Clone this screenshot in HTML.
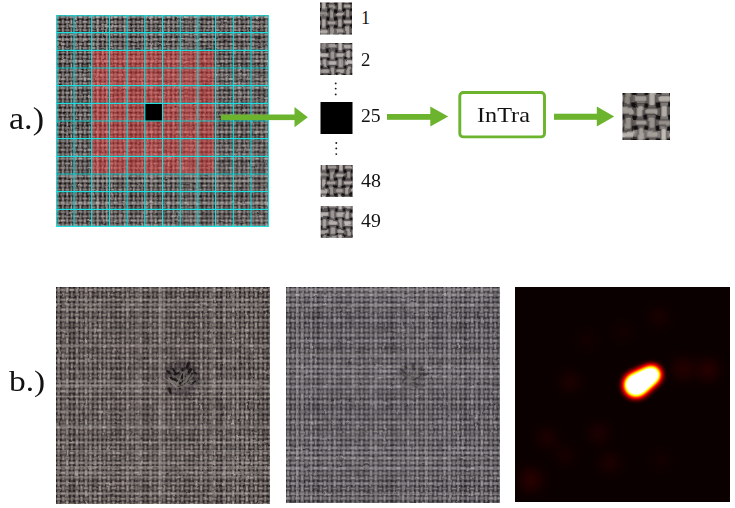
<!DOCTYPE html>
<html><head><meta charset="utf-8">
<style>
html,body{margin:0;padding:0;background:#fff;width:735px;height:508px;overflow:hidden;}
body{position:relative;font-family:"Liberation Serif",serif;color:#111;}
.lbl{position:absolute;font-family:"Liberation Serif",serif;line-height:1;white-space:nowrap;transform-origin:0 0;color:#121212;}
svg{position:absolute;left:0;top:0;}
</style></head>
<body>
<svg width="735" height="508" viewBox="0 0 735 508">
<defs>
<linearGradient id="shv" x1="0" y1="0" x2="1" y2="0"><stop offset="0" stop-color="#000" stop-opacity="0.4"/><stop offset="0.3" stop-color="#000" stop-opacity="0"/><stop offset="0.7" stop-color="#000" stop-opacity="0"/><stop offset="1" stop-color="#000" stop-opacity="0.4"/></linearGradient>
<linearGradient id="shh" x1="0" y1="0" x2="0" y2="1"><stop offset="0" stop-color="#000" stop-opacity="0.4"/><stop offset="0.3" stop-color="#000" stop-opacity="0"/><stop offset="0.7" stop-color="#000" stop-opacity="0"/><stop offset="1" stop-color="#000" stop-opacity="0.4"/></linearGradient>
<pattern id="wA" x="56" y="15" width="70.800" height="70.800" patternUnits="userSpaceOnUse">
<rect width="70.800" height="70.800" fill="#0e0c0e"/>
<rect x="0.77" y="0" width="2.37" height="70.80" fill="#4e4848"/>
<rect x="5.58" y="0" width="2.61" height="70.80" fill="#514b4b"/>
<rect x="10.03" y="0" width="2.44" height="70.80" fill="#544e4e"/>
<rect x="14.23" y="0" width="2.17" height="70.80" fill="#605a5a"/>
<rect x="18.42" y="0" width="2.99" height="70.80" fill="#544e4e"/>
<rect x="22.95" y="0" width="2.71" height="70.80" fill="#4f4949"/>
<rect x="27.47" y="0" width="2.79" height="70.80" fill="#534d4d"/>
<rect x="32.22" y="0" width="2.34" height="70.80" fill="#3f3939"/>
<rect x="35.76" y="0" width="3.14" height="70.80" fill="#3f3939"/>
<rect x="40.20" y="0" width="3.01" height="70.80" fill="#5c5656"/>
<rect x="45.56" y="0" width="2.27" height="70.80" fill="#696363"/>
<rect x="49.60" y="0" width="2.48" height="70.80" fill="#585252"/>
<rect x="54.06" y="0" width="2.87" height="70.80" fill="#4f4949"/>
<rect x="57.96" y="0" width="2.86" height="70.80" fill="#453f3f"/>
<rect x="62.58" y="0" width="3.09" height="70.80" fill="#544e4e"/>
<rect x="67.46" y="0" width="2.57" height="70.80" fill="#696363"/>
<rect x="0" y="0.53" width="70.80" height="2.98" fill="#5f5959"/>
<rect x="0" y="5.54" width="70.80" height="2.82" fill="#554f4f"/>
<rect x="0" y="10.12" width="70.80" height="2.45" fill="#635d5d"/>
<rect x="0" y="13.79" width="70.80" height="2.74" fill="#484242"/>
<rect x="0" y="18.06" width="70.80" height="3.03" fill="#544e4e"/>
<rect x="0" y="22.87" width="70.80" height="3.00" fill="#676161"/>
<rect x="0" y="27.74" width="70.80" height="2.66" fill="#575151"/>
<rect x="0" y="31.73" width="70.80" height="2.74" fill="#524c4c"/>
<rect x="0" y="36.32" width="70.80" height="2.18" fill="#494343"/>
<rect x="0" y="40.79" width="70.80" height="2.39" fill="#565050"/>
<rect x="0" y="44.66" width="70.80" height="2.95" fill="#686262"/>
<rect x="0" y="49.41" width="70.80" height="2.56" fill="#3e3838"/>
<rect x="0" y="54.11" width="70.80" height="2.32" fill="#605a5a"/>
<rect x="0" y="58.39" width="70.80" height="2.70" fill="#625c5c"/>
<rect x="0" y="62.55" width="70.80" height="2.85" fill="#645e5e"/>
<rect x="0" y="66.99" width="70.80" height="2.82" fill="#5e5858"/>
<rect x="1.22" y="0.16" width="1.47" height="3.72" rx="0.44" fill="#9d9692"/>
<rect x="0.09" y="6.07" width="3.72" height="1.75" rx="0.52" fill="#97908c"/>
<rect x="1.22" y="9.48" width="1.47" height="3.72" rx="0.44" fill="#948d89"/>
<rect x="0.09" y="14.31" width="3.72" height="1.70" rx="0.51" fill="#8c8581"/>
<rect x="1.22" y="17.72" width="1.47" height="3.72" rx="0.44" fill="#837c78"/>
<rect x="0.09" y="23.44" width="3.72" height="1.86" rx="0.56" fill="#aea7a3"/>
<rect x="1.22" y="27.21" width="1.47" height="3.72" rx="0.44" fill="#958e8a"/>
<rect x="0.09" y="32.26" width="3.72" height="1.70" rx="0.51" fill="#8a837f"/>
<rect x="1.22" y="35.55" width="1.47" height="3.72" rx="0.44" fill="#928b87"/>
<rect x="0.09" y="41.24" width="3.72" height="1.48" rx="0.45" fill="#968f8b"/>
<rect x="1.22" y="44.27" width="1.47" height="3.72" rx="0.44" fill="#8d8682"/>
<rect x="0.09" y="49.90" width="3.72" height="1.59" rx="0.48" fill="#837c78"/>
<rect x="1.22" y="53.41" width="1.47" height="3.72" rx="0.44" fill="#948d89"/>
<rect x="0.09" y="58.90" width="3.72" height="1.67" rx="0.50" fill="#a29b97"/>
<rect x="1.22" y="62.11" width="1.47" height="3.72" rx="0.44" fill="#968f8b"/>
<rect x="0.09" y="67.52" width="3.72" height="1.75" rx="0.53" fill="#9a938f"/>
<rect x="5.02" y="1.10" width="3.72" height="1.85" rx="0.55" fill="#8c8581"/>
<rect x="6.07" y="5.09" width="1.62" height="3.72" rx="0.49" fill="#8a837f"/>
<rect x="5.02" y="10.58" width="3.72" height="1.52" rx="0.46" fill="#948d89"/>
<rect x="6.07" y="13.30" width="1.62" height="3.72" rx="0.49" fill="#97908c"/>
<rect x="5.02" y="18.64" width="3.72" height="1.88" rx="0.56" fill="#a39c98"/>
<rect x="6.07" y="22.50" width="1.62" height="3.72" rx="0.49" fill="#9e9793"/>
<rect x="5.02" y="28.25" width="3.72" height="1.65" rx="0.49" fill="#a29b97"/>
<rect x="6.07" y="31.24" width="1.62" height="3.72" rx="0.49" fill="#9f9894"/>
<rect x="5.02" y="36.74" width="3.72" height="1.35" rx="0.41" fill="#87807c"/>
<rect x="6.07" y="40.12" width="1.62" height="3.72" rx="0.49" fill="#a09995"/>
<rect x="5.02" y="45.22" width="3.72" height="1.83" rx="0.55" fill="#a8a19d"/>
<rect x="6.07" y="48.83" width="1.62" height="3.72" rx="0.49" fill="#857e7a"/>
<rect x="5.02" y="54.55" width="3.72" height="1.44" rx="0.43" fill="#8c8581"/>
<rect x="6.07" y="57.87" width="1.62" height="3.72" rx="0.49" fill="#837c78"/>
<rect x="5.02" y="63.09" width="3.72" height="1.77" rx="0.53" fill="#a9a29e"/>
<rect x="6.07" y="66.54" width="1.62" height="3.72" rx="0.49" fill="#8b8480"/>
<rect x="10.49" y="0.16" width="1.51" height="3.72" rx="0.45" fill="#88817d"/>
<rect x="9.38" y="6.07" width="3.72" height="1.75" rx="0.52" fill="#9b9490"/>
<rect x="10.49" y="9.48" width="1.51" height="3.72" rx="0.45" fill="#908985"/>
<rect x="9.38" y="14.31" width="3.72" height="1.70" rx="0.51" fill="#7f7874"/>
<rect x="10.49" y="17.72" width="1.51" height="3.72" rx="0.45" fill="#8a837f"/>
<rect x="9.38" y="23.44" width="3.72" height="1.86" rx="0.56" fill="#a29b97"/>
<rect x="10.49" y="27.21" width="1.51" height="3.72" rx="0.45" fill="#8a837f"/>
<rect x="9.38" y="32.26" width="3.72" height="1.70" rx="0.51" fill="#8c8581"/>
<rect x="10.49" y="35.55" width="1.51" height="3.72" rx="0.45" fill="#9d9692"/>
<rect x="9.38" y="41.24" width="3.72" height="1.48" rx="0.45" fill="#958e8a"/>
<rect x="10.49" y="44.27" width="1.51" height="3.72" rx="0.45" fill="#8f8884"/>
<rect x="9.38" y="49.90" width="3.72" height="1.59" rx="0.48" fill="#88817d"/>
<rect x="10.49" y="53.41" width="1.51" height="3.72" rx="0.45" fill="#857e7a"/>
<rect x="9.38" y="58.90" width="3.72" height="1.67" rx="0.50" fill="#9a938f"/>
<rect x="10.49" y="62.11" width="1.51" height="3.72" rx="0.45" fill="#938c88"/>
<rect x="9.38" y="67.52" width="3.72" height="1.75" rx="0.53" fill="#918a86"/>
<rect x="13.45" y="1.10" width="3.72" height="1.85" rx="0.55" fill="#8f8884"/>
<rect x="14.64" y="5.09" width="1.35" height="3.72" rx="0.40" fill="#aba4a0"/>
<rect x="13.45" y="10.58" width="3.72" height="1.52" rx="0.46" fill="#9f9894"/>
<rect x="14.64" y="13.30" width="1.35" height="3.72" rx="0.40" fill="#938c88"/>
<rect x="13.45" y="18.64" width="3.72" height="1.88" rx="0.56" fill="#9a938f"/>
<rect x="14.64" y="22.50" width="1.35" height="3.72" rx="0.40" fill="#a8a19d"/>
<rect x="13.45" y="28.25" width="3.72" height="1.65" rx="0.49" fill="#87807c"/>
<rect x="14.64" y="31.24" width="1.35" height="3.72" rx="0.40" fill="#8c8581"/>
<rect x="13.45" y="36.74" width="3.72" height="1.35" rx="0.41" fill="#837c78"/>
<rect x="14.64" y="40.12" width="1.35" height="3.72" rx="0.40" fill="#a59e9a"/>
<rect x="13.45" y="45.22" width="3.72" height="1.83" rx="0.55" fill="#968f8b"/>
<rect x="14.64" y="48.83" width="1.35" height="3.72" rx="0.40" fill="#a49d99"/>
<rect x="13.45" y="54.55" width="3.72" height="1.44" rx="0.43" fill="#a39c98"/>
<rect x="14.64" y="57.87" width="1.35" height="3.72" rx="0.40" fill="#9e9793"/>
<rect x="13.45" y="63.09" width="3.72" height="1.77" rx="0.53" fill="#968f8b"/>
<rect x="14.64" y="66.54" width="1.35" height="3.72" rx="0.40" fill="#aea7a3"/>
<rect x="18.98" y="0.16" width="1.85" height="3.72" rx="0.56" fill="#a19a96"/>
<rect x="18.05" y="6.07" width="3.72" height="1.75" rx="0.52" fill="#97908c"/>
<rect x="18.98" y="9.48" width="1.85" height="3.72" rx="0.56" fill="#8c8581"/>
<rect x="18.05" y="14.31" width="3.72" height="1.70" rx="0.51" fill="#948d89"/>
<rect x="18.98" y="17.72" width="1.85" height="3.72" rx="0.56" fill="#928b87"/>
<rect x="18.05" y="23.44" width="3.72" height="1.86" rx="0.56" fill="#a49d99"/>
<rect x="18.98" y="27.21" width="1.85" height="3.72" rx="0.56" fill="#908985"/>
<rect x="18.05" y="32.26" width="3.72" height="1.70" rx="0.51" fill="#99928e"/>
<rect x="18.98" y="35.55" width="1.85" height="3.72" rx="0.56" fill="#87807c"/>
<rect x="18.05" y="41.24" width="3.72" height="1.48" rx="0.45" fill="#908985"/>
<rect x="18.98" y="44.27" width="1.85" height="3.72" rx="0.56" fill="#a7a09c"/>
<rect x="18.05" y="49.90" width="3.72" height="1.59" rx="0.48" fill="#968f8b"/>
<rect x="18.98" y="53.41" width="1.85" height="3.72" rx="0.56" fill="#8f8884"/>
<rect x="18.05" y="58.90" width="3.72" height="1.67" rx="0.50" fill="#aba4a0"/>
<rect x="18.98" y="62.11" width="1.85" height="3.72" rx="0.56" fill="#8f8884"/>
<rect x="18.05" y="67.52" width="3.72" height="1.75" rx="0.53" fill="#aba4a0"/>
<rect x="22.44" y="1.10" width="3.72" height="1.85" rx="0.55" fill="#a59e9a"/>
<rect x="23.46" y="5.09" width="1.68" height="3.72" rx="0.50" fill="#908985"/>
<rect x="22.44" y="10.58" width="3.72" height="1.52" rx="0.46" fill="#968f8b"/>
<rect x="23.46" y="13.30" width="1.68" height="3.72" rx="0.50" fill="#817a76"/>
<rect x="22.44" y="18.64" width="3.72" height="1.88" rx="0.56" fill="#a39c98"/>
<rect x="23.46" y="22.50" width="1.68" height="3.72" rx="0.50" fill="#827b77"/>
<rect x="22.44" y="28.25" width="3.72" height="1.65" rx="0.49" fill="#a39c98"/>
<rect x="23.46" y="31.24" width="1.68" height="3.72" rx="0.50" fill="#a39c98"/>
<rect x="22.44" y="36.74" width="3.72" height="1.35" rx="0.41" fill="#928b87"/>
<rect x="23.46" y="40.12" width="1.68" height="3.72" rx="0.50" fill="#87807c"/>
<rect x="22.44" y="45.22" width="3.72" height="1.83" rx="0.55" fill="#afa8a4"/>
<rect x="23.46" y="48.83" width="1.68" height="3.72" rx="0.50" fill="#a39c98"/>
<rect x="22.44" y="54.55" width="3.72" height="1.44" rx="0.43" fill="#a49d99"/>
<rect x="23.46" y="57.87" width="1.68" height="3.72" rx="0.50" fill="#938c88"/>
<rect x="22.44" y="63.09" width="3.72" height="1.77" rx="0.53" fill="#9b9490"/>
<rect x="23.46" y="66.54" width="1.68" height="3.72" rx="0.50" fill="#8d8682"/>
<rect x="28.00" y="0.16" width="1.73" height="3.72" rx="0.52" fill="#8b8480"/>
<rect x="27.01" y="6.07" width="3.72" height="1.75" rx="0.52" fill="#9d9692"/>
<rect x="28.00" y="9.48" width="1.73" height="3.72" rx="0.52" fill="#938c88"/>
<rect x="27.01" y="14.31" width="3.72" height="1.70" rx="0.51" fill="#847d79"/>
<rect x="28.00" y="17.72" width="1.73" height="3.72" rx="0.52" fill="#87807c"/>
<rect x="27.01" y="23.44" width="3.72" height="1.86" rx="0.56" fill="#a7a09c"/>
<rect x="28.00" y="27.21" width="1.73" height="3.72" rx="0.52" fill="#8e8783"/>
<rect x="27.01" y="32.26" width="3.72" height="1.70" rx="0.51" fill="#948d89"/>
<rect x="28.00" y="35.55" width="1.73" height="3.72" rx="0.52" fill="#8f8884"/>
<rect x="27.01" y="41.24" width="3.72" height="1.48" rx="0.45" fill="#a49d99"/>
<rect x="28.00" y="44.27" width="1.73" height="3.72" rx="0.52" fill="#a39c98"/>
<rect x="27.01" y="49.90" width="3.72" height="1.59" rx="0.48" fill="#77706c"/>
<rect x="28.00" y="53.41" width="1.73" height="3.72" rx="0.52" fill="#8b8480"/>
<rect x="27.01" y="58.90" width="3.72" height="1.67" rx="0.50" fill="#98918d"/>
<rect x="28.00" y="62.11" width="1.73" height="3.72" rx="0.52" fill="#a69f9b"/>
<rect x="27.01" y="67.52" width="3.72" height="1.75" rx="0.53" fill="#a69f9b"/>
<rect x="31.53" y="1.10" width="3.72" height="1.85" rx="0.55" fill="#97908c"/>
<rect x="32.67" y="5.09" width="1.45" height="3.72" rx="0.43" fill="#7f7874"/>
<rect x="31.53" y="10.58" width="3.72" height="1.52" rx="0.46" fill="#a59e9a"/>
<rect x="32.67" y="13.30" width="1.45" height="3.72" rx="0.43" fill="#958e8a"/>
<rect x="31.53" y="18.64" width="3.72" height="1.88" rx="0.56" fill="#a59e9a"/>
<rect x="32.67" y="22.50" width="1.45" height="3.72" rx="0.43" fill="#847d79"/>
<rect x="31.53" y="28.25" width="3.72" height="1.65" rx="0.49" fill="#a59e9a"/>
<rect x="32.67" y="31.24" width="1.45" height="3.72" rx="0.43" fill="#908985"/>
<rect x="31.53" y="36.74" width="3.72" height="1.35" rx="0.41" fill="#8f8884"/>
<rect x="32.67" y="40.12" width="1.45" height="3.72" rx="0.43" fill="#9a938f"/>
<rect x="31.53" y="45.22" width="3.72" height="1.83" rx="0.55" fill="#98918d"/>
<rect x="32.67" y="48.83" width="1.45" height="3.72" rx="0.43" fill="#918a86"/>
<rect x="31.53" y="54.55" width="3.72" height="1.44" rx="0.43" fill="#8e8783"/>
<rect x="32.67" y="57.87" width="1.45" height="3.72" rx="0.43" fill="#7d7672"/>
<rect x="31.53" y="63.09" width="3.72" height="1.77" rx="0.53" fill="#aea7a3"/>
<rect x="32.67" y="66.54" width="1.45" height="3.72" rx="0.43" fill="#7f7874"/>
<rect x="36.35" y="0.16" width="1.95" height="3.72" rx="0.58" fill="#938c88"/>
<rect x="35.47" y="6.07" width="3.72" height="1.75" rx="0.52" fill="#9a938f"/>
<rect x="36.35" y="9.48" width="1.95" height="3.72" rx="0.58" fill="#958e8a"/>
<rect x="35.47" y="14.31" width="3.72" height="1.70" rx="0.51" fill="#8a837f"/>
<rect x="36.35" y="17.72" width="1.95" height="3.72" rx="0.58" fill="#847d79"/>
<rect x="35.47" y="23.44" width="3.72" height="1.86" rx="0.56" fill="#9a938f"/>
<rect x="36.35" y="27.21" width="1.95" height="3.72" rx="0.58" fill="#968f8b"/>
<rect x="35.47" y="32.26" width="3.72" height="1.70" rx="0.51" fill="#98918d"/>
<rect x="36.35" y="35.55" width="1.95" height="3.72" rx="0.58" fill="#99928e"/>
<rect x="35.47" y="41.24" width="3.72" height="1.48" rx="0.45" fill="#a49d99"/>
<rect x="36.35" y="44.27" width="1.95" height="3.72" rx="0.58" fill="#7d7672"/>
<rect x="35.47" y="49.90" width="3.72" height="1.59" rx="0.48" fill="#8a837f"/>
<rect x="36.35" y="53.41" width="1.95" height="3.72" rx="0.58" fill="#7c7571"/>
<rect x="35.47" y="58.90" width="3.72" height="1.67" rx="0.50" fill="#8e8783"/>
<rect x="36.35" y="62.11" width="1.95" height="3.72" rx="0.58" fill="#7a736f"/>
<rect x="35.47" y="67.52" width="3.72" height="1.75" rx="0.53" fill="#a9a29e"/>
<rect x="39.84" y="1.10" width="3.72" height="1.85" rx="0.55" fill="#a7a09c"/>
<rect x="40.77" y="5.09" width="1.87" height="3.72" rx="0.56" fill="#a69f9b"/>
<rect x="39.84" y="10.58" width="3.72" height="1.52" rx="0.46" fill="#99928e"/>
<rect x="40.77" y="13.30" width="1.87" height="3.72" rx="0.56" fill="#9f9894"/>
<rect x="39.84" y="18.64" width="3.72" height="1.88" rx="0.56" fill="#a09995"/>
<rect x="40.77" y="22.50" width="1.87" height="3.72" rx="0.56" fill="#97908c"/>
<rect x="39.84" y="28.25" width="3.72" height="1.65" rx="0.49" fill="#9a938f"/>
<rect x="40.77" y="31.24" width="1.87" height="3.72" rx="0.56" fill="#918a86"/>
<rect x="39.84" y="36.74" width="3.72" height="1.35" rx="0.41" fill="#817a76"/>
<rect x="40.77" y="40.12" width="1.87" height="3.72" rx="0.56" fill="#938c88"/>
<rect x="39.84" y="45.22" width="3.72" height="1.83" rx="0.55" fill="#afa8a4"/>
<rect x="40.77" y="48.83" width="1.87" height="3.72" rx="0.56" fill="#9d9692"/>
<rect x="39.84" y="54.55" width="3.72" height="1.44" rx="0.43" fill="#aca5a1"/>
<rect x="40.77" y="57.87" width="1.87" height="3.72" rx="0.56" fill="#99928e"/>
<rect x="39.84" y="63.09" width="3.72" height="1.77" rx="0.53" fill="#98918d"/>
<rect x="40.77" y="66.54" width="1.87" height="3.72" rx="0.56" fill="#a59e9a"/>
<rect x="45.99" y="0.16" width="1.41" height="3.72" rx="0.42" fill="#aea7a3"/>
<rect x="44.84" y="6.07" width="3.72" height="1.75" rx="0.52" fill="#857e7a"/>
<rect x="45.99" y="9.48" width="1.41" height="3.72" rx="0.42" fill="#a8a19d"/>
<rect x="44.84" y="14.31" width="3.72" height="1.70" rx="0.51" fill="#807975"/>
<rect x="45.99" y="17.72" width="1.41" height="3.72" rx="0.42" fill="#958e8a"/>
<rect x="44.84" y="23.44" width="3.72" height="1.86" rx="0.56" fill="#afa8a4"/>
<rect x="45.99" y="27.21" width="1.41" height="3.72" rx="0.42" fill="#928b87"/>
<rect x="44.84" y="32.26" width="3.72" height="1.70" rx="0.51" fill="#8b8480"/>
<rect x="45.99" y="35.55" width="1.41" height="3.72" rx="0.42" fill="#b3aca8"/>
<rect x="44.84" y="41.24" width="3.72" height="1.48" rx="0.45" fill="#948d89"/>
<rect x="45.99" y="44.27" width="1.41" height="3.72" rx="0.42" fill="#958e8a"/>
<rect x="44.84" y="49.90" width="3.72" height="1.59" rx="0.48" fill="#7d7672"/>
<rect x="45.99" y="53.41" width="1.41" height="3.72" rx="0.42" fill="#99928e"/>
<rect x="44.84" y="58.90" width="3.72" height="1.67" rx="0.50" fill="#a7a09c"/>
<rect x="45.99" y="62.11" width="1.41" height="3.72" rx="0.42" fill="#948d89"/>
<rect x="44.84" y="67.52" width="3.72" height="1.75" rx="0.53" fill="#aaa39f"/>
<rect x="48.98" y="1.10" width="3.72" height="1.85" rx="0.55" fill="#98918d"/>
<rect x="50.07" y="5.09" width="1.54" height="3.72" rx="0.46" fill="#a9a29e"/>
<rect x="48.98" y="10.58" width="3.72" height="1.52" rx="0.46" fill="#ada6a2"/>
<rect x="50.07" y="13.30" width="1.54" height="3.72" rx="0.46" fill="#918a86"/>
<rect x="48.98" y="18.64" width="3.72" height="1.88" rx="0.56" fill="#8d8682"/>
<rect x="50.07" y="22.50" width="1.54" height="3.72" rx="0.46" fill="#97908c"/>
<rect x="48.98" y="28.25" width="3.72" height="1.65" rx="0.49" fill="#89827e"/>
<rect x="50.07" y="31.24" width="1.54" height="3.72" rx="0.46" fill="#9d9692"/>
<rect x="48.98" y="36.74" width="3.72" height="1.35" rx="0.41" fill="#7f7874"/>
<rect x="50.07" y="40.12" width="1.54" height="3.72" rx="0.46" fill="#87807c"/>
<rect x="48.98" y="45.22" width="3.72" height="1.83" rx="0.55" fill="#b3aca8"/>
<rect x="50.07" y="48.83" width="1.54" height="3.72" rx="0.46" fill="#918a86"/>
<rect x="48.98" y="54.55" width="3.72" height="1.44" rx="0.43" fill="#a09995"/>
<rect x="50.07" y="57.87" width="1.54" height="3.72" rx="0.46" fill="#968f8b"/>
<rect x="48.98" y="63.09" width="3.72" height="1.77" rx="0.53" fill="#99928e"/>
<rect x="50.07" y="66.54" width="1.54" height="3.72" rx="0.46" fill="#89827e"/>
<rect x="54.61" y="0.16" width="1.78" height="3.72" rx="0.53" fill="#a19a96"/>
<rect x="53.63" y="6.07" width="3.72" height="1.75" rx="0.52" fill="#a7a09c"/>
<rect x="54.61" y="9.48" width="1.78" height="3.72" rx="0.53" fill="#a39c98"/>
<rect x="53.63" y="14.31" width="3.72" height="1.70" rx="0.51" fill="#817a76"/>
<rect x="54.61" y="17.72" width="1.78" height="3.72" rx="0.53" fill="#89827e"/>
<rect x="53.63" y="23.44" width="3.72" height="1.86" rx="0.56" fill="#a69f9b"/>
<rect x="54.61" y="27.21" width="1.78" height="3.72" rx="0.53" fill="#a49d99"/>
<rect x="53.63" y="32.26" width="3.72" height="1.70" rx="0.51" fill="#968f8b"/>
<rect x="54.61" y="35.55" width="1.78" height="3.72" rx="0.53" fill="#99928e"/>
<rect x="53.63" y="41.24" width="3.72" height="1.48" rx="0.45" fill="#9c9591"/>
<rect x="54.61" y="44.27" width="1.78" height="3.72" rx="0.53" fill="#8a837f"/>
<rect x="53.63" y="49.90" width="3.72" height="1.59" rx="0.48" fill="#8a837f"/>
<rect x="54.61" y="53.41" width="1.78" height="3.72" rx="0.53" fill="#8c8581"/>
<rect x="53.63" y="58.90" width="3.72" height="1.67" rx="0.50" fill="#958e8a"/>
<rect x="54.61" y="62.11" width="1.78" height="3.72" rx="0.53" fill="#847d79"/>
<rect x="53.63" y="67.52" width="3.72" height="1.75" rx="0.53" fill="#948d89"/>
<rect x="57.53" y="1.10" width="3.72" height="1.85" rx="0.55" fill="#aea7a3"/>
<rect x="58.50" y="5.09" width="1.77" height="3.72" rx="0.53" fill="#8b8480"/>
<rect x="57.53" y="10.58" width="3.72" height="1.52" rx="0.46" fill="#a49d99"/>
<rect x="58.50" y="13.30" width="1.77" height="3.72" rx="0.53" fill="#928b87"/>
<rect x="57.53" y="18.64" width="3.72" height="1.88" rx="0.56" fill="#a59e9a"/>
<rect x="58.50" y="22.50" width="1.77" height="3.72" rx="0.53" fill="#89827e"/>
<rect x="57.53" y="28.25" width="3.72" height="1.65" rx="0.49" fill="#918a86"/>
<rect x="58.50" y="31.24" width="1.77" height="3.72" rx="0.53" fill="#87807c"/>
<rect x="57.53" y="36.74" width="3.72" height="1.35" rx="0.41" fill="#89827e"/>
<rect x="58.50" y="40.12" width="1.77" height="3.72" rx="0.53" fill="#99928e"/>
<rect x="57.53" y="45.22" width="3.72" height="1.83" rx="0.55" fill="#afa8a4"/>
<rect x="58.50" y="48.83" width="1.77" height="3.72" rx="0.53" fill="#867f7b"/>
<rect x="57.53" y="54.55" width="3.72" height="1.44" rx="0.43" fill="#97908c"/>
<rect x="58.50" y="57.87" width="1.77" height="3.72" rx="0.53" fill="#8e8783"/>
<rect x="57.53" y="63.09" width="3.72" height="1.77" rx="0.53" fill="#a29b97"/>
<rect x="58.50" y="66.54" width="1.77" height="3.72" rx="0.53" fill="#908985"/>
<rect x="63.17" y="0.16" width="1.91" height="3.72" rx="0.57" fill="#8d8682"/>
<rect x="62.26" y="6.07" width="3.72" height="1.75" rx="0.52" fill="#867f7b"/>
<rect x="63.17" y="9.48" width="1.91" height="3.72" rx="0.57" fill="#8d8682"/>
<rect x="62.26" y="14.31" width="3.72" height="1.70" rx="0.51" fill="#7f7874"/>
<rect x="63.17" y="17.72" width="1.91" height="3.72" rx="0.57" fill="#97908c"/>
<rect x="62.26" y="23.44" width="3.72" height="1.86" rx="0.56" fill="#928b87"/>
<rect x="63.17" y="27.21" width="1.91" height="3.72" rx="0.57" fill="#87807c"/>
<rect x="62.26" y="32.26" width="3.72" height="1.70" rx="0.51" fill="#99928e"/>
<rect x="63.17" y="35.55" width="1.91" height="3.72" rx="0.57" fill="#8e8783"/>
<rect x="62.26" y="41.24" width="3.72" height="1.48" rx="0.45" fill="#a19a96"/>
<rect x="63.17" y="44.27" width="1.91" height="3.72" rx="0.57" fill="#958e8a"/>
<rect x="62.26" y="49.90" width="3.72" height="1.59" rx="0.48" fill="#958e8a"/>
<rect x="63.17" y="53.41" width="1.91" height="3.72" rx="0.57" fill="#89827e"/>
<rect x="62.26" y="58.90" width="3.72" height="1.67" rx="0.50" fill="#9e9793"/>
<rect x="63.17" y="62.11" width="1.91" height="3.72" rx="0.57" fill="#a09995"/>
<rect x="62.26" y="67.52" width="3.72" height="1.75" rx="0.53" fill="#8d8682"/>
<rect x="66.88" y="1.10" width="3.72" height="1.85" rx="0.55" fill="#aca5a1"/>
<rect x="67.95" y="5.09" width="1.59" height="3.72" rx="0.48" fill="#97908c"/>
<rect x="66.88" y="10.58" width="3.72" height="1.52" rx="0.46" fill="#a9a29e"/>
<rect x="67.95" y="13.30" width="1.59" height="3.72" rx="0.48" fill="#b3aca8"/>
<rect x="66.88" y="18.64" width="3.72" height="1.88" rx="0.56" fill="#a19a96"/>
<rect x="67.95" y="22.50" width="1.59" height="3.72" rx="0.48" fill="#9c9591"/>
<rect x="66.88" y="28.25" width="3.72" height="1.65" rx="0.49" fill="#8a837f"/>
<rect x="67.95" y="31.24" width="1.59" height="3.72" rx="0.48" fill="#a39c98"/>
<rect x="66.88" y="36.74" width="3.72" height="1.35" rx="0.41" fill="#9e9793"/>
<rect x="67.95" y="40.12" width="1.59" height="3.72" rx="0.48" fill="#9b9490"/>
<rect x="66.88" y="45.22" width="3.72" height="1.83" rx="0.55" fill="#afa8a4"/>
<rect x="67.95" y="48.83" width="1.59" height="3.72" rx="0.48" fill="#968f8b"/>
<rect x="66.88" y="54.55" width="3.72" height="1.44" rx="0.43" fill="#aba4a0"/>
<rect x="67.95" y="57.87" width="1.59" height="3.72" rx="0.48" fill="#928b87"/>
<rect x="66.88" y="63.09" width="3.72" height="1.77" rx="0.53" fill="#99928e"/>
<rect x="67.95" y="66.54" width="1.59" height="3.72" rx="0.48" fill="#b0a9a5"/>
</pattern>
<pattern id="wB" x="56" y="287" width="73.600" height="81.600" patternUnits="userSpaceOnUse">
<rect width="73.600" height="81.600" fill="#1e191b"/>
<rect x="1.21" y="0" width="2.81" height="81.60" fill="#665e5d"/>
<rect x="5.56" y="0" width="3.30" height="81.60" fill="#4f4746"/>
<rect x="9.70" y="0" width="2.97" height="81.60" fill="#6f6766"/>
<rect x="14.57" y="0" width="2.48" height="81.60" fill="#534b4a"/>
<rect x="19.34" y="0" width="3.19" height="81.60" fill="#706867"/>
<rect x="23.92" y="0" width="3.10" height="81.60" fill="#554d4c"/>
<rect x="28.50" y="0" width="3.03" height="81.60" fill="#726a69"/>
<rect x="32.76" y="0" width="3.21" height="81.60" fill="#675f5e"/>
<rect x="37.64" y="0" width="3.06" height="81.60" fill="#5e5655"/>
<rect x="42.23" y="0" width="3.09" height="81.60" fill="#5e5655"/>
<rect x="47.03" y="0" width="2.65" height="81.60" fill="#645c5b"/>
<rect x="51.02" y="0" width="3.28" height="81.60" fill="#615958"/>
<rect x="55.82" y="0" width="3.26" height="81.60" fill="#554d4c"/>
<rect x="60.79" y="0" width="2.46" height="81.60" fill="#514948"/>
<rect x="65.33" y="0" width="3.05" height="81.60" fill="#5e5655"/>
<rect x="70.14" y="0" width="3.02" height="81.60" fill="#716968"/>
<rect x="0" y="1.48" width="73.60" height="2.76" fill="#635b5a"/>
<rect x="0" y="6.27" width="73.60" height="2.83" fill="#4b4342"/>
<rect x="0" y="11.32" width="73.60" height="2.79" fill="#6c6463"/>
<rect x="0" y="16.08" width="73.60" height="3.22" fill="#675f5e"/>
<rect x="0" y="21.22" width="73.60" height="2.80" fill="#6f6766"/>
<rect x="0" y="26.15" width="73.60" height="3.13" fill="#504847"/>
<rect x="0" y="31.80" width="73.60" height="2.65" fill="#68605f"/>
<rect x="0" y="36.53" width="73.60" height="3.18" fill="#4a4241"/>
<rect x="0" y="41.67" width="73.60" height="3.20" fill="#645c5b"/>
<rect x="0" y="47.34" width="73.60" height="2.76" fill="#544c4b"/>
<rect x="0" y="52.13" width="73.60" height="2.87" fill="#514948"/>
<rect x="0" y="57.08" width="73.60" height="3.22" fill="#6e6665"/>
<rect x="0" y="62.05" width="73.60" height="3.02" fill="#4c4443"/>
<rect x="0" y="67.12" width="73.60" height="2.79" fill="#5e5655"/>
<rect x="0" y="72.57" width="73.60" height="2.52" fill="#6d6564"/>
<rect x="0" y="77.48" width="73.60" height="2.62" fill="#524a49"/>
<rect x="1.75" y="0.66" width="1.74" height="4.40" rx="0.52" fill="#89807b"/>
<rect x="0.67" y="6.80" width="3.90" height="1.75" rx="0.53" fill="#908782"/>
<rect x="1.75" y="10.51" width="1.74" height="4.40" rx="0.52" fill="#908782"/>
<rect x="0.67" y="16.69" width="3.90" height="2.00" rx="0.60" fill="#9b928d"/>
<rect x="1.75" y="20.43" width="1.74" height="4.40" rx="0.52" fill="#827974"/>
<rect x="0.67" y="26.75" width="3.90" height="1.94" rx="0.58" fill="#817873"/>
<rect x="1.75" y="30.93" width="1.74" height="4.40" rx="0.52" fill="#877e79"/>
<rect x="0.67" y="37.14" width="3.90" height="1.97" rx="0.59" fill="#887f7a"/>
<rect x="1.75" y="41.07" width="1.74" height="4.40" rx="0.52" fill="#847b76"/>
<rect x="0.67" y="47.87" width="3.90" height="1.71" rx="0.51" fill="#988f8a"/>
<rect x="1.75" y="51.37" width="1.74" height="4.40" rx="0.52" fill="#827974"/>
<rect x="0.67" y="57.69" width="3.90" height="2.00" rx="0.60" fill="#9f9691"/>
<rect x="1.75" y="61.37" width="1.74" height="4.40" rx="0.52" fill="#827974"/>
<rect x="0.67" y="67.65" width="3.90" height="1.73" rx="0.52" fill="#857c77"/>
<rect x="1.75" y="71.63" width="1.74" height="4.40" rx="0.52" fill="#9e9590"/>
<rect x="0.67" y="77.98" width="3.90" height="1.63" rx="0.49" fill="#7b726d"/>
<rect x="5.26" y="2.01" width="3.90" height="1.71" rx="0.51" fill="#867d78"/>
<rect x="6.19" y="5.48" width="2.05" height="4.40" rx="0.61" fill="#8b827d"/>
<rect x="5.26" y="11.85" width="3.90" height="1.73" rx="0.52" fill="#928984"/>
<rect x="6.19" y="15.49" width="2.05" height="4.40" rx="0.61" fill="#756c67"/>
<rect x="5.26" y="21.76" width="3.90" height="1.74" rx="0.52" fill="#aaa19c"/>
<rect x="6.19" y="25.52" width="2.05" height="4.40" rx="0.61" fill="#786f6a"/>
<rect x="5.26" y="32.30" width="3.90" height="1.65" rx="0.49" fill="#847b76"/>
<rect x="6.19" y="35.92" width="2.05" height="4.40" rx="0.61" fill="#7f7671"/>
<rect x="5.26" y="42.27" width="3.90" height="1.98" rx="0.60" fill="#968d88"/>
<rect x="6.19" y="46.52" width="2.05" height="4.40" rx="0.61" fill="#8d847f"/>
<rect x="5.26" y="52.68" width="3.90" height="1.78" rx="0.53" fill="#79706b"/>
<rect x="6.19" y="56.49" width="2.05" height="4.40" rx="0.61" fill="#7f7671"/>
<rect x="5.26" y="62.63" width="3.90" height="1.87" rx="0.56" fill="#736a65"/>
<rect x="6.19" y="66.32" width="2.05" height="4.40" rx="0.61" fill="#837a75"/>
<rect x="5.26" y="73.05" width="3.90" height="1.56" rx="0.47" fill="#a09792"/>
<rect x="6.19" y="76.60" width="2.05" height="4.40" rx="0.61" fill="#8d847f"/>
<rect x="10.27" y="0.66" width="1.84" height="4.40" rx="0.55" fill="#a69d98"/>
<rect x="9.24" y="6.80" width="3.90" height="1.75" rx="0.53" fill="#8b827d"/>
<rect x="10.27" y="10.51" width="1.84" height="4.40" rx="0.55" fill="#a59c97"/>
<rect x="9.24" y="16.69" width="3.90" height="2.00" rx="0.60" fill="#9b928d"/>
<rect x="10.27" y="20.43" width="1.84" height="4.40" rx="0.55" fill="#978e89"/>
<rect x="9.24" y="26.75" width="3.90" height="1.94" rx="0.58" fill="#7c736e"/>
<rect x="10.27" y="30.93" width="1.84" height="4.40" rx="0.55" fill="#9e9590"/>
<rect x="9.24" y="37.14" width="3.90" height="1.97" rx="0.59" fill="#7b726d"/>
<rect x="10.27" y="41.07" width="1.84" height="4.40" rx="0.55" fill="#8a817c"/>
<rect x="9.24" y="47.87" width="3.90" height="1.71" rx="0.51" fill="#867d78"/>
<rect x="10.27" y="51.37" width="1.84" height="4.40" rx="0.55" fill="#a59c97"/>
<rect x="9.24" y="57.69" width="3.90" height="2.00" rx="0.60" fill="#8a817c"/>
<rect x="10.27" y="61.37" width="1.84" height="4.40" rx="0.55" fill="#9b928d"/>
<rect x="9.24" y="67.65" width="3.90" height="1.73" rx="0.52" fill="#8a817c"/>
<rect x="10.27" y="71.63" width="1.84" height="4.40" rx="0.55" fill="#99908b"/>
<rect x="9.24" y="77.98" width="3.90" height="1.63" rx="0.49" fill="#7a716c"/>
<rect x="13.86" y="2.01" width="3.90" height="1.71" rx="0.51" fill="#a19893"/>
<rect x="15.04" y="5.48" width="1.54" height="4.40" rx="0.46" fill="#7f7671"/>
<rect x="13.86" y="11.85" width="3.90" height="1.73" rx="0.52" fill="#9a918c"/>
<rect x="15.04" y="15.49" width="1.54" height="4.40" rx="0.46" fill="#857c77"/>
<rect x="13.86" y="21.76" width="3.90" height="1.74" rx="0.52" fill="#877e79"/>
<rect x="15.04" y="25.52" width="1.54" height="4.40" rx="0.46" fill="#89807b"/>
<rect x="13.86" y="32.30" width="3.90" height="1.65" rx="0.49" fill="#877e79"/>
<rect x="15.04" y="35.92" width="1.54" height="4.40" rx="0.46" fill="#786f6a"/>
<rect x="13.86" y="42.27" width="3.90" height="1.98" rx="0.60" fill="#817873"/>
<rect x="15.04" y="46.52" width="1.54" height="4.40" rx="0.46" fill="#7b726d"/>
<rect x="13.86" y="52.68" width="3.90" height="1.78" rx="0.53" fill="#786f6a"/>
<rect x="15.04" y="56.49" width="1.54" height="4.40" rx="0.46" fill="#8c837e"/>
<rect x="13.86" y="62.63" width="3.90" height="1.87" rx="0.56" fill="#837a75"/>
<rect x="15.04" y="66.32" width="1.54" height="4.40" rx="0.46" fill="#988f8a"/>
<rect x="13.86" y="73.05" width="3.90" height="1.56" rx="0.47" fill="#a69d98"/>
<rect x="15.04" y="76.60" width="1.54" height="4.40" rx="0.46" fill="#99908b"/>
<rect x="19.94" y="0.66" width="1.98" height="4.40" rx="0.59" fill="#8f8681"/>
<rect x="18.98" y="6.80" width="3.90" height="1.75" rx="0.53" fill="#807772"/>
<rect x="19.94" y="10.51" width="1.98" height="4.40" rx="0.59" fill="#908782"/>
<rect x="18.98" y="16.69" width="3.90" height="2.00" rx="0.60" fill="#978e89"/>
<rect x="19.94" y="20.43" width="1.98" height="4.40" rx="0.59" fill="#9d948f"/>
<rect x="18.98" y="26.75" width="3.90" height="1.94" rx="0.58" fill="#908782"/>
<rect x="19.94" y="30.93" width="1.98" height="4.40" rx="0.59" fill="#a09792"/>
<rect x="18.98" y="37.14" width="3.90" height="1.97" rx="0.59" fill="#79706b"/>
<rect x="19.94" y="41.07" width="1.98" height="4.40" rx="0.59" fill="#968d88"/>
<rect x="18.98" y="47.87" width="3.90" height="1.71" rx="0.51" fill="#887f7a"/>
<rect x="19.94" y="51.37" width="1.98" height="4.40" rx="0.59" fill="#877e79"/>
<rect x="18.98" y="57.69" width="3.90" height="2.00" rx="0.60" fill="#877e79"/>
<rect x="19.94" y="61.37" width="1.98" height="4.40" rx="0.59" fill="#958c87"/>
<rect x="18.98" y="67.65" width="3.90" height="1.73" rx="0.52" fill="#807772"/>
<rect x="19.94" y="71.63" width="1.98" height="4.40" rx="0.59" fill="#a09792"/>
<rect x="18.98" y="77.98" width="3.90" height="1.63" rx="0.49" fill="#7e7570"/>
<rect x="23.52" y="2.01" width="3.90" height="1.71" rx="0.51" fill="#837a75"/>
<rect x="24.51" y="5.48" width="1.92" height="4.40" rx="0.58" fill="#7d746f"/>
<rect x="23.52" y="11.85" width="3.90" height="1.73" rx="0.52" fill="#8d847f"/>
<rect x="24.51" y="15.49" width="1.92" height="4.40" rx="0.58" fill="#7f7671"/>
<rect x="23.52" y="21.76" width="3.90" height="1.74" rx="0.52" fill="#99908b"/>
<rect x="24.51" y="25.52" width="1.92" height="4.40" rx="0.58" fill="#877e79"/>
<rect x="23.52" y="32.30" width="3.90" height="1.65" rx="0.49" fill="#8d847f"/>
<rect x="24.51" y="35.92" width="1.92" height="4.40" rx="0.58" fill="#8d847f"/>
<rect x="23.52" y="42.27" width="3.90" height="1.98" rx="0.60" fill="#877e79"/>
<rect x="24.51" y="46.52" width="1.92" height="4.40" rx="0.58" fill="#978e89"/>
<rect x="23.52" y="52.68" width="3.90" height="1.78" rx="0.53" fill="#978e89"/>
<rect x="24.51" y="56.49" width="1.92" height="4.40" rx="0.58" fill="#918883"/>
<rect x="23.52" y="62.63" width="3.90" height="1.87" rx="0.56" fill="#817873"/>
<rect x="24.51" y="66.32" width="1.92" height="4.40" rx="0.58" fill="#89807b"/>
<rect x="23.52" y="73.05" width="3.90" height="1.56" rx="0.47" fill="#9a918c"/>
<rect x="24.51" y="76.60" width="1.92" height="4.40" rx="0.58" fill="#79706b"/>
<rect x="29.08" y="0.66" width="1.88" height="4.40" rx="0.56" fill="#978e89"/>
<rect x="28.07" y="6.80" width="3.90" height="1.75" rx="0.53" fill="#837a75"/>
<rect x="29.08" y="10.51" width="1.88" height="4.40" rx="0.56" fill="#8e8580"/>
<rect x="28.07" y="16.69" width="3.90" height="2.00" rx="0.60" fill="#857c77"/>
<rect x="29.08" y="20.43" width="1.88" height="4.40" rx="0.56" fill="#a49b96"/>
<rect x="28.07" y="26.75" width="3.90" height="1.94" rx="0.58" fill="#817873"/>
<rect x="29.08" y="30.93" width="1.88" height="4.40" rx="0.56" fill="#9a918c"/>
<rect x="28.07" y="37.14" width="3.90" height="1.97" rx="0.59" fill="#918883"/>
<rect x="29.08" y="41.07" width="1.88" height="4.40" rx="0.56" fill="#9d948f"/>
<rect x="28.07" y="47.87" width="3.90" height="1.71" rx="0.51" fill="#807772"/>
<rect x="29.08" y="51.37" width="1.88" height="4.40" rx="0.56" fill="#aba29d"/>
<rect x="28.07" y="57.69" width="3.90" height="2.00" rx="0.60" fill="#938a85"/>
<rect x="29.08" y="61.37" width="1.88" height="4.40" rx="0.56" fill="#89807b"/>
<rect x="28.07" y="67.65" width="3.90" height="1.73" rx="0.52" fill="#958c87"/>
<rect x="29.08" y="71.63" width="1.88" height="4.40" rx="0.56" fill="#8c837e"/>
<rect x="28.07" y="77.98" width="3.90" height="1.63" rx="0.49" fill="#807772"/>
<rect x="32.42" y="2.01" width="3.90" height="1.71" rx="0.51" fill="#9d948f"/>
<rect x="33.37" y="5.48" width="1.99" height="4.40" rx="0.60" fill="#99908b"/>
<rect x="32.42" y="11.85" width="3.90" height="1.73" rx="0.52" fill="#857c77"/>
<rect x="33.37" y="15.49" width="1.99" height="4.40" rx="0.60" fill="#918883"/>
<rect x="32.42" y="21.76" width="3.90" height="1.74" rx="0.52" fill="#958c87"/>
<rect x="33.37" y="25.52" width="1.99" height="4.40" rx="0.60" fill="#928984"/>
<rect x="32.42" y="32.30" width="3.90" height="1.65" rx="0.49" fill="#8a817c"/>
<rect x="33.37" y="35.92" width="1.99" height="4.40" rx="0.60" fill="#968d88"/>
<rect x="32.42" y="42.27" width="3.90" height="1.98" rx="0.60" fill="#837a75"/>
<rect x="33.37" y="46.52" width="1.99" height="4.40" rx="0.60" fill="#8b827d"/>
<rect x="32.42" y="52.68" width="3.90" height="1.78" rx="0.53" fill="#827974"/>
<rect x="33.37" y="56.49" width="1.99" height="4.40" rx="0.60" fill="#a29994"/>
<rect x="32.42" y="62.63" width="3.90" height="1.87" rx="0.56" fill="#746b66"/>
<rect x="33.37" y="66.32" width="1.99" height="4.40" rx="0.60" fill="#9c938e"/>
<rect x="32.42" y="73.05" width="3.90" height="1.56" rx="0.47" fill="#8c837e"/>
<rect x="33.37" y="76.60" width="1.99" height="4.40" rx="0.60" fill="#958c87"/>
<rect x="38.22" y="0.66" width="1.90" height="4.40" rx="0.57" fill="#8a817c"/>
<rect x="37.22" y="6.80" width="3.90" height="1.75" rx="0.53" fill="#817873"/>
<rect x="38.22" y="10.51" width="1.90" height="4.40" rx="0.57" fill="#978e89"/>
<rect x="37.22" y="16.69" width="3.90" height="2.00" rx="0.60" fill="#908782"/>
<rect x="38.22" y="20.43" width="1.90" height="4.40" rx="0.57" fill="#807772"/>
<rect x="37.22" y="26.75" width="3.90" height="1.94" rx="0.58" fill="#786f6a"/>
<rect x="38.22" y="30.93" width="1.90" height="4.40" rx="0.57" fill="#7f7671"/>
<rect x="37.22" y="37.14" width="3.90" height="1.97" rx="0.59" fill="#8e8580"/>
<rect x="38.22" y="41.07" width="1.90" height="4.40" rx="0.57" fill="#938a85"/>
<rect x="37.22" y="47.87" width="3.90" height="1.71" rx="0.51" fill="#988f8a"/>
<rect x="38.22" y="51.37" width="1.90" height="4.40" rx="0.57" fill="#948b86"/>
<rect x="37.22" y="57.69" width="3.90" height="2.00" rx="0.60" fill="#877e79"/>
<rect x="38.22" y="61.37" width="1.90" height="4.40" rx="0.57" fill="#938a85"/>
<rect x="37.22" y="67.65" width="3.90" height="1.73" rx="0.52" fill="#988f8a"/>
<rect x="38.22" y="71.63" width="1.90" height="4.40" rx="0.57" fill="#958c87"/>
<rect x="37.22" y="77.98" width="3.90" height="1.63" rx="0.49" fill="#877e79"/>
<rect x="41.82" y="2.01" width="3.90" height="1.71" rx="0.51" fill="#8c837e"/>
<rect x="42.82" y="5.48" width="1.92" height="4.40" rx="0.57" fill="#8c837e"/>
<rect x="41.82" y="11.85" width="3.90" height="1.73" rx="0.52" fill="#a09792"/>
<rect x="42.82" y="15.49" width="1.92" height="4.40" rx="0.57" fill="#867d78"/>
<rect x="41.82" y="21.76" width="3.90" height="1.74" rx="0.52" fill="#99908b"/>
<rect x="42.82" y="25.52" width="1.92" height="4.40" rx="0.57" fill="#8d847f"/>
<rect x="41.82" y="32.30" width="3.90" height="1.65" rx="0.49" fill="#a49b96"/>
<rect x="42.82" y="35.92" width="1.92" height="4.40" rx="0.57" fill="#99908b"/>
<rect x="41.82" y="42.27" width="3.90" height="1.98" rx="0.60" fill="#a19893"/>
<rect x="42.82" y="46.52" width="1.92" height="4.40" rx="0.57" fill="#9a918c"/>
<rect x="41.82" y="52.68" width="3.90" height="1.78" rx="0.53" fill="#7f7671"/>
<rect x="42.82" y="56.49" width="1.92" height="4.40" rx="0.57" fill="#857c77"/>
<rect x="41.82" y="62.63" width="3.90" height="1.87" rx="0.56" fill="#837a75"/>
<rect x="42.82" y="66.32" width="1.92" height="4.40" rx="0.57" fill="#857c77"/>
<rect x="41.82" y="73.05" width="3.90" height="1.56" rx="0.47" fill="#948b86"/>
<rect x="42.82" y="76.60" width="1.92" height="4.40" rx="0.57" fill="#948b86"/>
<rect x="47.53" y="0.66" width="1.65" height="4.40" rx="0.49" fill="#a09792"/>
<rect x="46.41" y="6.80" width="3.90" height="1.75" rx="0.53" fill="#857c77"/>
<rect x="47.53" y="10.51" width="1.65" height="4.40" rx="0.49" fill="#9d948f"/>
<rect x="46.41" y="16.69" width="3.90" height="2.00" rx="0.60" fill="#857c77"/>
<rect x="47.53" y="20.43" width="1.65" height="4.40" rx="0.49" fill="#8c837e"/>
<rect x="46.41" y="26.75" width="3.90" height="1.94" rx="0.58" fill="#978e89"/>
<rect x="47.53" y="30.93" width="1.65" height="4.40" rx="0.49" fill="#857c77"/>
<rect x="46.41" y="37.14" width="3.90" height="1.97" rx="0.59" fill="#7f7671"/>
<rect x="47.53" y="41.07" width="1.65" height="4.40" rx="0.49" fill="#827974"/>
<rect x="46.41" y="47.87" width="3.90" height="1.71" rx="0.51" fill="#79706b"/>
<rect x="47.53" y="51.37" width="1.65" height="4.40" rx="0.49" fill="#9f9691"/>
<rect x="46.41" y="57.69" width="3.90" height="2.00" rx="0.60" fill="#a9a09b"/>
<rect x="47.53" y="61.37" width="1.65" height="4.40" rx="0.49" fill="#978e89"/>
<rect x="46.41" y="67.65" width="3.90" height="1.73" rx="0.52" fill="#817873"/>
<rect x="47.53" y="71.63" width="1.65" height="4.40" rx="0.49" fill="#8a817c"/>
<rect x="46.41" y="77.98" width="3.90" height="1.63" rx="0.49" fill="#7d746f"/>
<rect x="50.71" y="2.01" width="3.90" height="1.71" rx="0.51" fill="#978e89"/>
<rect x="51.64" y="5.48" width="2.03" height="4.40" rx="0.61" fill="#968d88"/>
<rect x="50.71" y="11.85" width="3.90" height="1.73" rx="0.52" fill="#948b86"/>
<rect x="51.64" y="15.49" width="2.03" height="4.40" rx="0.61" fill="#918883"/>
<rect x="50.71" y="21.76" width="3.90" height="1.74" rx="0.52" fill="#8b827d"/>
<rect x="51.64" y="25.52" width="2.03" height="4.40" rx="0.61" fill="#918883"/>
<rect x="50.71" y="32.30" width="3.90" height="1.65" rx="0.49" fill="#a49b96"/>
<rect x="51.64" y="35.92" width="2.03" height="4.40" rx="0.61" fill="#99908b"/>
<rect x="50.71" y="42.27" width="3.90" height="1.98" rx="0.60" fill="#837a75"/>
<rect x="51.64" y="46.52" width="2.03" height="4.40" rx="0.61" fill="#908782"/>
<rect x="50.71" y="52.68" width="3.90" height="1.78" rx="0.53" fill="#8e8580"/>
<rect x="51.64" y="56.49" width="2.03" height="4.40" rx="0.61" fill="#877e79"/>
<rect x="50.71" y="62.63" width="3.90" height="1.87" rx="0.56" fill="#918883"/>
<rect x="51.64" y="66.32" width="2.03" height="4.40" rx="0.61" fill="#8e8580"/>
<rect x="50.71" y="73.05" width="3.90" height="1.56" rx="0.47" fill="#9e9590"/>
<rect x="51.64" y="76.60" width="2.03" height="4.40" rx="0.61" fill="#8c837e"/>
<rect x="56.44" y="0.66" width="2.02" height="4.40" rx="0.61" fill="#9a918c"/>
<rect x="55.50" y="6.80" width="3.90" height="1.75" rx="0.53" fill="#8c837e"/>
<rect x="56.44" y="10.51" width="2.02" height="4.40" rx="0.61" fill="#8b827d"/>
<rect x="55.50" y="16.69" width="3.90" height="2.00" rx="0.60" fill="#877e79"/>
<rect x="56.44" y="20.43" width="2.02" height="4.40" rx="0.61" fill="#867d78"/>
<rect x="55.50" y="26.75" width="3.90" height="1.94" rx="0.58" fill="#756c67"/>
<rect x="56.44" y="30.93" width="2.02" height="4.40" rx="0.61" fill="#8c837e"/>
<rect x="55.50" y="37.14" width="3.90" height="1.97" rx="0.59" fill="#8f8681"/>
<rect x="56.44" y="41.07" width="2.02" height="4.40" rx="0.61" fill="#7d746f"/>
<rect x="55.50" y="47.87" width="3.90" height="1.71" rx="0.51" fill="#887f7a"/>
<rect x="56.44" y="51.37" width="2.02" height="4.40" rx="0.61" fill="#887f7a"/>
<rect x="55.50" y="57.69" width="3.90" height="2.00" rx="0.60" fill="#948b86"/>
<rect x="56.44" y="61.37" width="2.02" height="4.40" rx="0.61" fill="#908782"/>
<rect x="55.50" y="67.65" width="3.90" height="1.73" rx="0.52" fill="#9d948f"/>
<rect x="56.44" y="71.63" width="2.02" height="4.40" rx="0.61" fill="#908782"/>
<rect x="55.50" y="77.98" width="3.90" height="1.63" rx="0.49" fill="#867d78"/>
<rect x="60.08" y="2.01" width="3.90" height="1.71" rx="0.51" fill="#a19893"/>
<rect x="61.26" y="5.48" width="1.53" height="4.40" rx="0.46" fill="#807772"/>
<rect x="60.08" y="11.85" width="3.90" height="1.73" rx="0.52" fill="#9f9691"/>
<rect x="61.26" y="15.49" width="1.53" height="4.40" rx="0.46" fill="#8b827d"/>
<rect x="60.08" y="21.76" width="3.90" height="1.74" rx="0.52" fill="#a19893"/>
<rect x="61.26" y="25.52" width="1.53" height="4.40" rx="0.46" fill="#928984"/>
<rect x="60.08" y="32.30" width="3.90" height="1.65" rx="0.49" fill="#8a817c"/>
<rect x="61.26" y="35.92" width="1.53" height="4.40" rx="0.46" fill="#8a817c"/>
<rect x="60.08" y="42.27" width="3.90" height="1.98" rx="0.60" fill="#8e8580"/>
<rect x="61.26" y="46.52" width="1.53" height="4.40" rx="0.46" fill="#8c837e"/>
<rect x="60.08" y="52.68" width="3.90" height="1.78" rx="0.53" fill="#978e89"/>
<rect x="61.26" y="56.49" width="1.53" height="4.40" rx="0.46" fill="#8b827d"/>
<rect x="60.08" y="62.63" width="3.90" height="1.87" rx="0.56" fill="#726964"/>
<rect x="61.26" y="66.32" width="1.53" height="4.40" rx="0.46" fill="#857c77"/>
<rect x="60.08" y="73.05" width="3.90" height="1.56" rx="0.47" fill="#9e9590"/>
<rect x="61.26" y="76.60" width="1.53" height="4.40" rx="0.46" fill="#938a85"/>
<rect x="65.91" y="0.66" width="1.89" height="4.40" rx="0.57" fill="#938a85"/>
<rect x="64.91" y="6.80" width="3.90" height="1.75" rx="0.53" fill="#8d847f"/>
<rect x="65.91" y="10.51" width="1.89" height="4.40" rx="0.57" fill="#7d746f"/>
<rect x="64.91" y="16.69" width="3.90" height="2.00" rx="0.60" fill="#a39a95"/>
<rect x="65.91" y="20.43" width="1.89" height="4.40" rx="0.57" fill="#968d88"/>
<rect x="64.91" y="26.75" width="3.90" height="1.94" rx="0.58" fill="#89807b"/>
<rect x="65.91" y="30.93" width="1.89" height="4.40" rx="0.57" fill="#9c938e"/>
<rect x="64.91" y="37.14" width="3.90" height="1.97" rx="0.59" fill="#8f8681"/>
<rect x="65.91" y="41.07" width="1.89" height="4.40" rx="0.57" fill="#807772"/>
<rect x="64.91" y="47.87" width="3.90" height="1.71" rx="0.51" fill="#938a85"/>
<rect x="65.91" y="51.37" width="1.89" height="4.40" rx="0.57" fill="#978e89"/>
<rect x="64.91" y="57.69" width="3.90" height="2.00" rx="0.60" fill="#8d847f"/>
<rect x="65.91" y="61.37" width="1.89" height="4.40" rx="0.57" fill="#968d88"/>
<rect x="64.91" y="67.65" width="3.90" height="1.73" rx="0.52" fill="#918883"/>
<rect x="65.91" y="71.63" width="1.89" height="4.40" rx="0.57" fill="#837a75"/>
<rect x="64.91" y="77.98" width="3.90" height="1.63" rx="0.49" fill="#918883"/>
<rect x="69.70" y="2.01" width="3.90" height="1.71" rx="0.51" fill="#847b76"/>
<rect x="70.71" y="5.48" width="1.87" height="4.40" rx="0.56" fill="#9d948f"/>
<rect x="69.70" y="11.85" width="3.90" height="1.73" rx="0.52" fill="#948b86"/>
<rect x="70.71" y="15.49" width="1.87" height="4.40" rx="0.56" fill="#908782"/>
<rect x="69.70" y="21.76" width="3.90" height="1.74" rx="0.52" fill="#9b928d"/>
<rect x="70.71" y="25.52" width="1.87" height="4.40" rx="0.56" fill="#988f8a"/>
<rect x="69.70" y="32.30" width="3.90" height="1.65" rx="0.49" fill="#8a817c"/>
<rect x="70.71" y="35.92" width="1.87" height="4.40" rx="0.56" fill="#a9a09b"/>
<rect x="69.70" y="42.27" width="3.90" height="1.98" rx="0.60" fill="#837a75"/>
<rect x="70.71" y="46.52" width="1.87" height="4.40" rx="0.56" fill="#877e79"/>
<rect x="69.70" y="52.68" width="3.90" height="1.78" rx="0.53" fill="#867d78"/>
<rect x="70.71" y="56.49" width="1.87" height="4.40" rx="0.56" fill="#a59c97"/>
<rect x="69.70" y="62.63" width="3.90" height="1.87" rx="0.56" fill="#89807b"/>
<rect x="70.71" y="66.32" width="1.87" height="4.40" rx="0.56" fill="#a29994"/>
<rect x="69.70" y="73.05" width="3.90" height="1.56" rx="0.47" fill="#968d88"/>
<rect x="70.71" y="76.60" width="1.87" height="4.40" rx="0.56" fill="#9f9691"/>
</pattern>
<pattern id="wC" x="286" y="287" width="73.600" height="81.600" patternUnits="userSpaceOnUse">
<rect width="73.600" height="81.600" fill="#28252c"/>
<rect x="0.72" y="0" width="2.79" height="81.60" fill="#585458"/>
<rect x="5.33" y="0" width="3.20" height="81.60" fill="#504c50"/>
<rect x="9.99" y="0" width="2.84" height="81.60" fill="#6c686c"/>
<rect x="14.50" y="0" width="3.34" height="81.60" fill="#716d71"/>
<rect x="19.15" y="0" width="3.28" height="81.60" fill="#514d51"/>
<rect x="23.75" y="0" width="2.50" height="81.60" fill="#6a666a"/>
<rect x="28.29" y="0" width="2.54" height="81.60" fill="#5c585c"/>
<rect x="33.43" y="0" width="2.62" height="81.60" fill="#534f53"/>
<rect x="37.25" y="0" width="3.37" height="81.60" fill="#585458"/>
<rect x="42.10" y="0" width="2.84" height="81.60" fill="#696569"/>
<rect x="47.13" y="0" width="3.03" height="81.60" fill="#6d696d"/>
<rect x="51.53" y="0" width="2.70" height="81.60" fill="#4f4b4f"/>
<rect x="56.28" y="0" width="2.91" height="81.60" fill="#646064"/>
<rect x="60.69" y="0" width="2.79" height="81.60" fill="#4f4b4f"/>
<rect x="65.42" y="0" width="2.75" height="81.60" fill="#676367"/>
<rect x="69.56" y="0" width="2.99" height="81.60" fill="#595559"/>
<rect x="0" y="1.15" width="73.60" height="2.98" fill="#6d696d"/>
<rect x="0" y="6.26" width="73.60" height="3.30" fill="#716d71"/>
<rect x="0" y="11.23" width="73.60" height="3.08" fill="#605c60"/>
<rect x="0" y="16.35" width="73.60" height="3.33" fill="#716d71"/>
<rect x="0" y="21.44" width="73.60" height="3.26" fill="#595559"/>
<rect x="0" y="26.05" width="73.60" height="3.39" fill="#504c50"/>
<rect x="0" y="31.80" width="73.60" height="3.07" fill="#635f63"/>
<rect x="0" y="37.03" width="73.60" height="2.56" fill="#4f4b4f"/>
<rect x="0" y="41.58" width="73.60" height="3.26" fill="#555155"/>
<rect x="0" y="46.44" width="73.60" height="3.36" fill="#5c585c"/>
<rect x="0" y="52.15" width="73.60" height="3.30" fill="#635f63"/>
<rect x="0" y="57.15" width="73.60" height="2.97" fill="#534f53"/>
<rect x="0" y="62.35" width="73.60" height="3.11" fill="#4f4b4f"/>
<rect x="0" y="67.81" width="73.60" height="2.61" fill="#6d696d"/>
<rect x="0" y="72.48" width="73.60" height="3.23" fill="#595559"/>
<rect x="0" y="77.86" width="73.60" height="2.97" fill="#706c70"/>
<rect x="1.25" y="0.44" width="1.73" height="4.40" rx="0.52" fill="#928e91"/>
<rect x="0.17" y="6.88" width="3.90" height="2.05" rx="0.61" fill="#928e91"/>
<rect x="1.25" y="10.57" width="1.73" height="4.40" rx="0.52" fill="#868285"/>
<rect x="0.17" y="16.99" width="3.90" height="2.06" rx="0.62" fill="#979396"/>
<rect x="1.25" y="20.87" width="1.73" height="4.40" rx="0.52" fill="#8b878a"/>
<rect x="0.17" y="26.69" width="3.90" height="2.10" rx="0.63" fill="#858184"/>
<rect x="1.25" y="31.13" width="1.73" height="4.40" rx="0.52" fill="#898588"/>
<rect x="0.17" y="37.52" width="3.90" height="1.59" rx="0.48" fill="#858184"/>
<rect x="1.25" y="41.01" width="1.73" height="4.40" rx="0.52" fill="#949093"/>
<rect x="0.17" y="47.08" width="3.90" height="2.09" rx="0.63" fill="#8a8689"/>
<rect x="1.25" y="51.61" width="1.73" height="4.40" rx="0.52" fill="#858184"/>
<rect x="0.17" y="57.71" width="3.90" height="1.84" rx="0.55" fill="#8a8689"/>
<rect x="1.25" y="61.70" width="1.73" height="4.40" rx="0.52" fill="#7f7b7e"/>
<rect x="0.17" y="68.31" width="3.90" height="1.62" rx="0.49" fill="#8e8a8d"/>
<rect x="1.25" y="71.90" width="1.73" height="4.40" rx="0.52" fill="#959194"/>
<rect x="0.17" y="78.42" width="3.90" height="1.84" rx="0.55" fill="#969295"/>
<rect x="4.98" y="1.72" width="3.90" height="1.85" rx="0.56" fill="#959194"/>
<rect x="5.94" y="5.71" width="1.98" height="4.40" rx="0.60" fill="#747073"/>
<rect x="4.98" y="11.81" width="3.90" height="1.91" rx="0.57" fill="#898588"/>
<rect x="5.94" y="15.82" width="1.98" height="4.40" rx="0.60" fill="#848083"/>
<rect x="4.98" y="22.06" width="3.90" height="2.02" rx="0.61" fill="#7a7679"/>
<rect x="5.94" y="25.54" width="1.98" height="4.40" rx="0.60" fill="#858184"/>
<rect x="4.98" y="32.38" width="3.90" height="1.90" rx="0.57" fill="#918d90"/>
<rect x="5.94" y="36.11" width="1.98" height="4.40" rx="0.60" fill="#757174"/>
<rect x="4.98" y="42.20" width="3.90" height="2.02" rx="0.61" fill="#898588"/>
<rect x="5.94" y="45.92" width="1.98" height="4.40" rx="0.60" fill="#817d80"/>
<rect x="4.98" y="52.78" width="3.90" height="2.05" rx="0.61" fill="#938f92"/>
<rect x="5.94" y="56.43" width="1.98" height="4.40" rx="0.60" fill="#7e7a7d"/>
<rect x="4.98" y="62.94" width="3.90" height="1.93" rx="0.58" fill="#888487"/>
<rect x="5.94" y="66.92" width="1.98" height="4.40" rx="0.60" fill="#898588"/>
<rect x="4.98" y="73.10" width="3.90" height="2.00" rx="0.60" fill="#7a7679"/>
<rect x="5.94" y="77.14" width="1.98" height="4.40" rx="0.60" fill="#757174"/>
<rect x="10.53" y="0.44" width="1.76" height="4.40" rx="0.53" fill="#989497"/>
<rect x="9.46" y="6.88" width="3.90" height="2.05" rx="0.61" fill="#a39fa2"/>
<rect x="10.53" y="10.57" width="1.76" height="4.40" rx="0.53" fill="#8c888b"/>
<rect x="9.46" y="16.99" width="3.90" height="2.06" rx="0.62" fill="#959194"/>
<rect x="10.53" y="20.87" width="1.76" height="4.40" rx="0.53" fill="#969295"/>
<rect x="9.46" y="26.69" width="3.90" height="2.10" rx="0.63" fill="#7d797c"/>
<rect x="10.53" y="31.13" width="1.76" height="4.40" rx="0.53" fill="#8f8b8e"/>
<rect x="9.46" y="37.52" width="3.90" height="1.59" rx="0.48" fill="#7c787b"/>
<rect x="10.53" y="41.01" width="1.76" height="4.40" rx="0.53" fill="#8f8b8e"/>
<rect x="9.46" y="47.08" width="3.90" height="2.09" rx="0.63" fill="#8c888b"/>
<rect x="10.53" y="51.61" width="1.76" height="4.40" rx="0.53" fill="#8d898c"/>
<rect x="9.46" y="57.71" width="3.90" height="1.84" rx="0.55" fill="#817d80"/>
<rect x="10.53" y="61.70" width="1.76" height="4.40" rx="0.53" fill="#9b979a"/>
<rect x="9.46" y="68.31" width="3.90" height="1.62" rx="0.49" fill="#868285"/>
<rect x="10.53" y="71.90" width="1.76" height="4.40" rx="0.53" fill="#959194"/>
<rect x="9.46" y="78.42" width="3.90" height="1.84" rx="0.55" fill="#9c989b"/>
<rect x="14.22" y="1.72" width="3.90" height="1.85" rx="0.56" fill="#8e8a8d"/>
<rect x="15.14" y="5.71" width="2.07" height="4.40" rx="0.62" fill="#8e8a8d"/>
<rect x="14.22" y="11.81" width="3.90" height="1.91" rx="0.57" fill="#949093"/>
<rect x="15.14" y="15.82" width="2.07" height="4.40" rx="0.62" fill="#8f8b8e"/>
<rect x="14.22" y="22.06" width="3.90" height="2.02" rx="0.61" fill="#7e7a7d"/>
<rect x="15.14" y="25.54" width="2.07" height="4.40" rx="0.62" fill="#949093"/>
<rect x="14.22" y="32.38" width="3.90" height="1.90" rx="0.57" fill="#938f92"/>
<rect x="15.14" y="36.11" width="2.07" height="4.40" rx="0.62" fill="#8b878a"/>
<rect x="14.22" y="42.20" width="3.90" height="2.02" rx="0.61" fill="#807c7f"/>
<rect x="15.14" y="45.92" width="2.07" height="4.40" rx="0.62" fill="#918d90"/>
<rect x="14.22" y="52.78" width="3.90" height="2.05" rx="0.61" fill="#979396"/>
<rect x="15.14" y="56.43" width="2.07" height="4.40" rx="0.62" fill="#949093"/>
<rect x="14.22" y="62.94" width="3.90" height="1.93" rx="0.58" fill="#8c888b"/>
<rect x="15.14" y="66.92" width="2.07" height="4.40" rx="0.62" fill="#8d898c"/>
<rect x="14.22" y="73.10" width="3.90" height="2.00" rx="0.60" fill="#837f82"/>
<rect x="15.14" y="77.14" width="2.07" height="4.40" rx="0.62" fill="#9a9699"/>
<rect x="19.77" y="0.44" width="2.03" height="4.40" rx="0.61" fill="#8e8a8d"/>
<rect x="18.84" y="6.88" width="3.90" height="2.05" rx="0.61" fill="#949093"/>
<rect x="19.77" y="10.57" width="2.03" height="4.40" rx="0.61" fill="#7b777a"/>
<rect x="18.84" y="16.99" width="3.90" height="2.06" rx="0.62" fill="#8b878a"/>
<rect x="19.77" y="20.87" width="2.03" height="4.40" rx="0.61" fill="#837f82"/>
<rect x="18.84" y="26.69" width="3.90" height="2.10" rx="0.63" fill="#797578"/>
<rect x="19.77" y="31.13" width="2.03" height="4.40" rx="0.61" fill="#8b878a"/>
<rect x="18.84" y="37.52" width="3.90" height="1.59" rx="0.48" fill="#8b878a"/>
<rect x="19.77" y="41.01" width="2.03" height="4.40" rx="0.61" fill="#797578"/>
<rect x="18.84" y="47.08" width="3.90" height="2.09" rx="0.63" fill="#837f82"/>
<rect x="19.77" y="51.61" width="2.03" height="4.40" rx="0.61" fill="#8b878a"/>
<rect x="18.84" y="57.71" width="3.90" height="1.84" rx="0.55" fill="#888487"/>
<rect x="19.77" y="61.70" width="2.03" height="4.40" rx="0.61" fill="#8b878a"/>
<rect x="18.84" y="68.31" width="3.90" height="1.62" rx="0.49" fill="#8f8b8e"/>
<rect x="19.77" y="71.90" width="2.03" height="4.40" rx="0.61" fill="#787477"/>
<rect x="18.84" y="78.42" width="3.90" height="1.84" rx="0.55" fill="#8f8b8e"/>
<rect x="23.05" y="1.72" width="3.90" height="1.85" rx="0.56" fill="#9c989b"/>
<rect x="24.22" y="5.71" width="1.55" height="4.40" rx="0.46" fill="#8b878a"/>
<rect x="23.05" y="11.81" width="3.90" height="1.91" rx="0.57" fill="#878386"/>
<rect x="24.22" y="15.82" width="1.55" height="4.40" rx="0.46" fill="#908c8f"/>
<rect x="23.05" y="22.06" width="3.90" height="2.02" rx="0.61" fill="#858184"/>
<rect x="24.22" y="25.54" width="1.55" height="4.40" rx="0.46" fill="#8f8b8e"/>
<rect x="23.05" y="32.38" width="3.90" height="1.90" rx="0.57" fill="#9a9699"/>
<rect x="24.22" y="36.11" width="1.55" height="4.40" rx="0.46" fill="#888487"/>
<rect x="23.05" y="42.20" width="3.90" height="2.02" rx="0.61" fill="#777376"/>
<rect x="24.22" y="45.92" width="1.55" height="4.40" rx="0.46" fill="#9f9b9e"/>
<rect x="23.05" y="52.78" width="3.90" height="2.05" rx="0.61" fill="#999598"/>
<rect x="24.22" y="56.43" width="1.55" height="4.40" rx="0.46" fill="#a09c9f"/>
<rect x="23.05" y="62.94" width="3.90" height="1.93" rx="0.58" fill="#807c7f"/>
<rect x="24.22" y="66.92" width="1.55" height="4.40" rx="0.46" fill="#9f9b9e"/>
<rect x="23.05" y="73.10" width="3.90" height="2.00" rx="0.60" fill="#949093"/>
<rect x="24.22" y="77.14" width="1.55" height="4.40" rx="0.46" fill="#8a8689"/>
<rect x="28.77" y="0.44" width="1.57" height="4.40" rx="0.47" fill="#918d90"/>
<rect x="27.61" y="6.88" width="3.90" height="2.05" rx="0.61" fill="#a09c9f"/>
<rect x="28.77" y="10.57" width="1.57" height="4.40" rx="0.47" fill="#8e8a8d"/>
<rect x="27.61" y="16.99" width="3.90" height="2.06" rx="0.62" fill="#979396"/>
<rect x="28.77" y="20.87" width="1.57" height="4.40" rx="0.47" fill="#837f82"/>
<rect x="27.61" y="26.69" width="3.90" height="2.10" rx="0.63" fill="#7e7a7d"/>
<rect x="28.77" y="31.13" width="1.57" height="4.40" rx="0.47" fill="#827e81"/>
<rect x="27.61" y="37.52" width="3.90" height="1.59" rx="0.48" fill="#757174"/>
<rect x="28.77" y="41.01" width="1.57" height="4.40" rx="0.47" fill="#8c888b"/>
<rect x="27.61" y="47.08" width="3.90" height="2.09" rx="0.63" fill="#837f82"/>
<rect x="28.77" y="51.61" width="1.57" height="4.40" rx="0.47" fill="#928e91"/>
<rect x="27.61" y="57.71" width="3.90" height="1.84" rx="0.55" fill="#777376"/>
<rect x="28.77" y="61.70" width="1.57" height="4.40" rx="0.47" fill="#959194"/>
<rect x="27.61" y="68.31" width="3.90" height="1.62" rx="0.49" fill="#999598"/>
<rect x="28.77" y="71.90" width="1.57" height="4.40" rx="0.47" fill="#969295"/>
<rect x="27.61" y="78.42" width="3.90" height="1.84" rx="0.55" fill="#a19da0"/>
<rect x="32.79" y="1.72" width="3.90" height="1.85" rx="0.56" fill="#9f9b9e"/>
<rect x="33.92" y="5.71" width="1.62" height="4.40" rx="0.49" fill="#868285"/>
<rect x="32.79" y="11.81" width="3.90" height="1.91" rx="0.57" fill="#7e7a7d"/>
<rect x="33.92" y="15.82" width="1.62" height="4.40" rx="0.49" fill="#8b878a"/>
<rect x="32.79" y="22.06" width="3.90" height="2.02" rx="0.61" fill="#7e7a7d"/>
<rect x="33.92" y="25.54" width="1.62" height="4.40" rx="0.49" fill="#7e7a7d"/>
<rect x="32.79" y="32.38" width="3.90" height="1.90" rx="0.57" fill="#928e91"/>
<rect x="33.92" y="36.11" width="1.62" height="4.40" rx="0.49" fill="#858184"/>
<rect x="32.79" y="42.20" width="3.90" height="2.02" rx="0.61" fill="#827e81"/>
<rect x="33.92" y="45.92" width="1.62" height="4.40" rx="0.49" fill="#918d90"/>
<rect x="32.79" y="52.78" width="3.90" height="2.05" rx="0.61" fill="#918d90"/>
<rect x="33.92" y="56.43" width="1.62" height="4.40" rx="0.49" fill="#7f7b7e"/>
<rect x="32.79" y="62.94" width="3.90" height="1.93" rx="0.58" fill="#7a7679"/>
<rect x="33.92" y="66.92" width="1.62" height="4.40" rx="0.49" fill="#8e8a8d"/>
<rect x="32.79" y="73.10" width="3.90" height="2.00" rx="0.60" fill="#878386"/>
<rect x="33.92" y="77.14" width="1.62" height="4.40" rx="0.49" fill="#8c888b"/>
<rect x="37.89" y="0.44" width="2.09" height="4.40" rx="0.63" fill="#837f82"/>
<rect x="36.98" y="6.88" width="3.90" height="2.05" rx="0.61" fill="#8d898c"/>
<rect x="37.89" y="10.57" width="2.09" height="4.40" rx="0.63" fill="#888487"/>
<rect x="36.98" y="16.99" width="3.90" height="2.06" rx="0.62" fill="#9f9b9e"/>
<rect x="37.89" y="20.87" width="2.09" height="4.40" rx="0.63" fill="#7e7a7d"/>
<rect x="36.98" y="26.69" width="3.90" height="2.10" rx="0.63" fill="#8b878a"/>
<rect x="37.89" y="31.13" width="2.09" height="4.40" rx="0.63" fill="#938f92"/>
<rect x="36.98" y="37.52" width="3.90" height="1.59" rx="0.48" fill="#8a8689"/>
<rect x="37.89" y="41.01" width="2.09" height="4.40" rx="0.63" fill="#908c8f"/>
<rect x="36.98" y="47.08" width="3.90" height="2.09" rx="0.63" fill="#7b777a"/>
<rect x="37.89" y="51.61" width="2.09" height="4.40" rx="0.63" fill="#8b878a"/>
<rect x="36.98" y="57.71" width="3.90" height="1.84" rx="0.55" fill="#8f8b8e"/>
<rect x="37.89" y="61.70" width="2.09" height="4.40" rx="0.63" fill="#7a7679"/>
<rect x="36.98" y="68.31" width="3.90" height="1.62" rx="0.49" fill="#8d898c"/>
<rect x="37.89" y="71.90" width="2.09" height="4.40" rx="0.63" fill="#807c7f"/>
<rect x="36.98" y="78.42" width="3.90" height="1.84" rx="0.55" fill="#969295"/>
<rect x="41.56" y="1.72" width="3.90" height="1.85" rx="0.56" fill="#928e91"/>
<rect x="42.63" y="5.71" width="1.76" height="4.40" rx="0.53" fill="#918d90"/>
<rect x="41.56" y="11.81" width="3.90" height="1.91" rx="0.57" fill="#949093"/>
<rect x="42.63" y="15.82" width="1.76" height="4.40" rx="0.53" fill="#837f82"/>
<rect x="41.56" y="22.06" width="3.90" height="2.02" rx="0.61" fill="#7b777a"/>
<rect x="42.63" y="25.54" width="1.76" height="4.40" rx="0.53" fill="#878386"/>
<rect x="41.56" y="32.38" width="3.90" height="1.90" rx="0.57" fill="#837f82"/>
<rect x="42.63" y="36.11" width="1.76" height="4.40" rx="0.53" fill="#858184"/>
<rect x="41.56" y="42.20" width="3.90" height="2.02" rx="0.61" fill="#938f92"/>
<rect x="42.63" y="45.92" width="1.76" height="4.40" rx="0.53" fill="#9c989b"/>
<rect x="41.56" y="52.78" width="3.90" height="2.05" rx="0.61" fill="#827e81"/>
<rect x="42.63" y="56.43" width="1.76" height="4.40" rx="0.53" fill="#918d90"/>
<rect x="41.56" y="62.94" width="3.90" height="1.93" rx="0.58" fill="#7c787b"/>
<rect x="42.63" y="66.92" width="1.76" height="4.40" rx="0.53" fill="#8c888b"/>
<rect x="41.56" y="73.10" width="3.90" height="2.00" rx="0.60" fill="#837f82"/>
<rect x="42.63" y="77.14" width="1.76" height="4.40" rx="0.53" fill="#969295"/>
<rect x="47.71" y="0.44" width="1.88" height="4.40" rx="0.56" fill="#969295"/>
<rect x="46.70" y="6.88" width="3.90" height="2.05" rx="0.61" fill="#928e91"/>
<rect x="47.71" y="10.57" width="1.88" height="4.40" rx="0.56" fill="#8b878a"/>
<rect x="46.70" y="16.99" width="3.90" height="2.06" rx="0.62" fill="#918d90"/>
<rect x="47.71" y="20.87" width="1.88" height="4.40" rx="0.56" fill="#898588"/>
<rect x="46.70" y="26.69" width="3.90" height="2.10" rx="0.63" fill="#848083"/>
<rect x="47.71" y="31.13" width="1.88" height="4.40" rx="0.56" fill="#9a9699"/>
<rect x="46.70" y="37.52" width="3.90" height="1.59" rx="0.48" fill="#7e7a7d"/>
<rect x="47.71" y="41.01" width="1.88" height="4.40" rx="0.56" fill="#878386"/>
<rect x="46.70" y="47.08" width="3.90" height="2.09" rx="0.63" fill="#807c7f"/>
<rect x="47.71" y="51.61" width="1.88" height="4.40" rx="0.56" fill="#908c8f"/>
<rect x="46.70" y="57.71" width="3.90" height="1.84" rx="0.55" fill="#878386"/>
<rect x="47.71" y="61.70" width="1.88" height="4.40" rx="0.56" fill="#9c989b"/>
<rect x="46.70" y="68.31" width="3.90" height="1.62" rx="0.49" fill="#908c8f"/>
<rect x="47.71" y="71.90" width="1.88" height="4.40" rx="0.56" fill="#9c989b"/>
<rect x="46.70" y="78.42" width="3.90" height="1.84" rx="0.55" fill="#999598"/>
<rect x="50.93" y="1.72" width="3.90" height="1.85" rx="0.56" fill="#928e91"/>
<rect x="52.04" y="5.71" width="1.67" height="4.40" rx="0.50" fill="#7e7a7d"/>
<rect x="50.93" y="11.81" width="3.90" height="1.91" rx="0.57" fill="#8c888b"/>
<rect x="52.04" y="15.82" width="1.67" height="4.40" rx="0.50" fill="#878386"/>
<rect x="50.93" y="22.06" width="3.90" height="2.02" rx="0.61" fill="#858184"/>
<rect x="52.04" y="25.54" width="1.67" height="4.40" rx="0.50" fill="#878386"/>
<rect x="50.93" y="32.38" width="3.90" height="1.90" rx="0.57" fill="#8d898c"/>
<rect x="52.04" y="36.11" width="1.67" height="4.40" rx="0.50" fill="#7a7679"/>
<rect x="50.93" y="42.20" width="3.90" height="2.02" rx="0.61" fill="#868285"/>
<rect x="52.04" y="45.92" width="1.67" height="4.40" rx="0.50" fill="#878386"/>
<rect x="50.93" y="52.78" width="3.90" height="2.05" rx="0.61" fill="#827e81"/>
<rect x="52.04" y="56.43" width="1.67" height="4.40" rx="0.50" fill="#7f7b7e"/>
<rect x="50.93" y="62.94" width="3.90" height="1.93" rx="0.58" fill="#7f7b7e"/>
<rect x="52.04" y="66.92" width="1.67" height="4.40" rx="0.50" fill="#8d898c"/>
<rect x="50.93" y="73.10" width="3.90" height="2.00" rx="0.60" fill="#949093"/>
<rect x="52.04" y="77.14" width="1.67" height="4.40" rx="0.50" fill="#7e7a7d"/>
<rect x="56.83" y="0.44" width="1.80" height="4.40" rx="0.54" fill="#999598"/>
<rect x="55.79" y="6.88" width="3.90" height="2.05" rx="0.61" fill="#9e9a9d"/>
<rect x="56.83" y="10.57" width="1.80" height="4.40" rx="0.54" fill="#878386"/>
<rect x="55.79" y="16.99" width="3.90" height="2.06" rx="0.62" fill="#959194"/>
<rect x="56.83" y="20.87" width="1.80" height="4.40" rx="0.54" fill="#837f82"/>
<rect x="55.79" y="26.69" width="3.90" height="2.10" rx="0.63" fill="#8b878a"/>
<rect x="56.83" y="31.13" width="1.80" height="4.40" rx="0.54" fill="#938f92"/>
<rect x="55.79" y="37.52" width="3.90" height="1.59" rx="0.48" fill="#8d898c"/>
<rect x="56.83" y="41.01" width="1.80" height="4.40" rx="0.54" fill="#969295"/>
<rect x="55.79" y="47.08" width="3.90" height="2.09" rx="0.63" fill="#8e8a8d"/>
<rect x="56.83" y="51.61" width="1.80" height="4.40" rx="0.54" fill="#959194"/>
<rect x="55.79" y="57.71" width="3.90" height="1.84" rx="0.55" fill="#868285"/>
<rect x="56.83" y="61.70" width="1.80" height="4.40" rx="0.54" fill="#837f82"/>
<rect x="55.79" y="68.31" width="3.90" height="1.62" rx="0.49" fill="#969295"/>
<rect x="56.83" y="71.90" width="1.80" height="4.40" rx="0.54" fill="#807c7f"/>
<rect x="55.79" y="78.42" width="3.90" height="1.84" rx="0.55" fill="#8b878a"/>
<rect x="60.13" y="1.72" width="3.90" height="1.85" rx="0.56" fill="#9c989b"/>
<rect x="61.22" y="5.71" width="1.73" height="4.40" rx="0.52" fill="#757174"/>
<rect x="60.13" y="11.81" width="3.90" height="1.91" rx="0.57" fill="#807c7f"/>
<rect x="61.22" y="15.82" width="1.73" height="4.40" rx="0.52" fill="#767275"/>
<rect x="60.13" y="22.06" width="3.90" height="2.02" rx="0.61" fill="#928e91"/>
<rect x="61.22" y="25.54" width="1.73" height="4.40" rx="0.52" fill="#787477"/>
<rect x="60.13" y="32.38" width="3.90" height="1.90" rx="0.57" fill="#807c7f"/>
<rect x="61.22" y="36.11" width="1.73" height="4.40" rx="0.52" fill="#8c888b"/>
<rect x="60.13" y="42.20" width="3.90" height="2.02" rx="0.61" fill="#7a7679"/>
<rect x="61.22" y="45.92" width="1.73" height="4.40" rx="0.52" fill="#8c888b"/>
<rect x="60.13" y="52.78" width="3.90" height="2.05" rx="0.61" fill="#938f92"/>
<rect x="61.22" y="56.43" width="1.73" height="4.40" rx="0.52" fill="#8b878a"/>
<rect x="60.13" y="62.94" width="3.90" height="1.93" rx="0.58" fill="#8f8b8e"/>
<rect x="61.22" y="66.92" width="1.73" height="4.40" rx="0.52" fill="#848083"/>
<rect x="60.13" y="73.10" width="3.90" height="2.00" rx="0.60" fill="#908c8f"/>
<rect x="61.22" y="77.14" width="1.73" height="4.40" rx="0.52" fill="#747073"/>
<rect x="65.94" y="0.44" width="1.71" height="4.40" rx="0.51" fill="#989497"/>
<rect x="64.85" y="6.88" width="3.90" height="2.05" rx="0.61" fill="#969295"/>
<rect x="65.94" y="10.57" width="1.71" height="4.40" rx="0.51" fill="#969295"/>
<rect x="64.85" y="16.99" width="3.90" height="2.06" rx="0.62" fill="#8b878a"/>
<rect x="65.94" y="20.87" width="1.71" height="4.40" rx="0.51" fill="#979396"/>
<rect x="64.85" y="26.69" width="3.90" height="2.10" rx="0.63" fill="#8f8b8e"/>
<rect x="65.94" y="31.13" width="1.71" height="4.40" rx="0.51" fill="#848083"/>
<rect x="64.85" y="37.52" width="3.90" height="1.59" rx="0.48" fill="#7c787b"/>
<rect x="65.94" y="41.01" width="1.71" height="4.40" rx="0.51" fill="#928e91"/>
<rect x="64.85" y="47.08" width="3.90" height="2.09" rx="0.63" fill="#938f92"/>
<rect x="65.94" y="51.61" width="1.71" height="4.40" rx="0.51" fill="#898588"/>
<rect x="64.85" y="57.71" width="3.90" height="1.84" rx="0.55" fill="#7b777a"/>
<rect x="65.94" y="61.70" width="1.71" height="4.40" rx="0.51" fill="#898588"/>
<rect x="64.85" y="68.31" width="3.90" height="1.62" rx="0.49" fill="#979396"/>
<rect x="65.94" y="71.90" width="1.71" height="4.40" rx="0.51" fill="#989497"/>
<rect x="64.85" y="78.42" width="3.90" height="1.84" rx="0.55" fill="#928e91"/>
<rect x="69.11" y="1.72" width="3.90" height="1.85" rx="0.56" fill="#908c8f"/>
<rect x="70.13" y="5.71" width="1.85" height="4.40" rx="0.56" fill="#858184"/>
<rect x="69.11" y="11.81" width="3.90" height="1.91" rx="0.57" fill="#878386"/>
<rect x="70.13" y="15.82" width="1.85" height="4.40" rx="0.56" fill="#858184"/>
<rect x="69.11" y="22.06" width="3.90" height="2.02" rx="0.61" fill="#7b777a"/>
<rect x="70.13" y="25.54" width="1.85" height="4.40" rx="0.56" fill="#888487"/>
<rect x="69.11" y="32.38" width="3.90" height="1.90" rx="0.57" fill="#9b979a"/>
<rect x="70.13" y="36.11" width="1.85" height="4.40" rx="0.56" fill="#858184"/>
<rect x="69.11" y="42.20" width="3.90" height="2.02" rx="0.61" fill="#8c888b"/>
<rect x="70.13" y="45.92" width="1.85" height="4.40" rx="0.56" fill="#7e7a7d"/>
<rect x="69.11" y="52.78" width="3.90" height="2.05" rx="0.61" fill="#938f92"/>
<rect x="70.13" y="56.43" width="1.85" height="4.40" rx="0.56" fill="#8f8b8e"/>
<rect x="69.11" y="62.94" width="3.90" height="1.93" rx="0.58" fill="#878386"/>
<rect x="70.13" y="66.92" width="1.85" height="4.40" rx="0.56" fill="#888487"/>
<rect x="69.11" y="73.10" width="3.90" height="2.00" rx="0.60" fill="#878386"/>
<rect x="70.13" y="77.14" width="1.85" height="4.40" rx="0.56" fill="#8c888b"/>
</pattern>
<pattern id="wP" x="320" y="2.5" width="32.000" height="32.000" patternUnits="userSpaceOnUse">
<rect width="32.000" height="32.000" fill="#0f0c0e"/>
<rect x="1.18" y="0" width="5.27" height="32.00" fill="#6a6464"/>
<rect x="9.36" y="0" width="4.72" height="32.00" fill="#696363"/>
<rect x="17.41" y="0" width="5.04" height="32.00" fill="#696363"/>
<rect x="25.37" y="0" width="4.78" height="32.00" fill="#4e4848"/>
<rect x="0" y="1.36" width="32.00" height="4.67" fill="#534d4d"/>
<rect x="0" y="9.63" width="32.00" height="4.61" fill="#615b5b"/>
<rect x="0" y="17.94" width="32.00" height="4.71" fill="#666060"/>
<rect x="0" y="25.50" width="32.00" height="5.43" fill="#6b6565"/>
<rect x="1.71" y="0.05" width="4.21" height="7.30" rx="1.26" fill="#b6afab"/>
<rect x="1.18" y="-0.30" width="5.27" height="8.00" fill="url(#shv)"/>
<rect x="0.17" y="10.09" width="7.30" height="3.68" rx="1.11" fill="#948d89"/>
<rect x="-0.18" y="9.63" width="8.00" height="4.61" fill="url(#shh)"/>
<rect x="1.71" y="16.64" width="4.21" height="7.30" rx="1.26" fill="#aca5a1"/>
<rect x="1.18" y="16.29" width="5.27" height="8.00" fill="url(#shv)"/>
<rect x="0.17" y="26.04" width="7.30" height="4.34" rx="1.30" fill="#afa8a4"/>
<rect x="-0.18" y="25.50" width="8.00" height="5.43" fill="url(#shh)"/>
<rect x="8.07" y="1.83" width="7.30" height="3.74" rx="1.12" fill="#9b9490"/>
<rect x="7.72" y="1.36" width="8.00" height="4.67" fill="url(#shh)"/>
<rect x="9.83" y="8.28" width="3.78" height="7.30" rx="1.13" fill="#9c9591"/>
<rect x="9.36" y="7.93" width="4.72" height="8.00" fill="url(#shv)"/>
<rect x="8.07" y="18.41" width="7.30" height="3.77" rx="1.13" fill="#a59e9a"/>
<rect x="7.72" y="17.94" width="8.00" height="4.71" fill="url(#shh)"/>
<rect x="9.83" y="24.56" width="3.78" height="7.30" rx="1.13" fill="#99928e"/>
<rect x="9.36" y="24.21" width="4.72" height="8.00" fill="url(#shv)"/>
<rect x="17.91" y="0.05" width="4.03" height="7.30" rx="1.21" fill="#b7b0ac"/>
<rect x="17.41" y="-0.30" width="5.04" height="8.00" fill="url(#shv)"/>
<rect x="16.28" y="10.09" width="7.30" height="3.68" rx="1.11" fill="#b0a9a5"/>
<rect x="15.93" y="9.63" width="8.00" height="4.61" fill="url(#shh)"/>
<rect x="17.91" y="16.64" width="4.03" height="7.30" rx="1.21" fill="#a9a29e"/>
<rect x="17.41" y="16.29" width="5.04" height="8.00" fill="url(#shv)"/>
<rect x="16.28" y="26.04" width="7.30" height="4.34" rx="1.30" fill="#a29b97"/>
<rect x="15.93" y="25.50" width="8.00" height="5.43" fill="url(#shh)"/>
<rect x="24.11" y="1.83" width="7.30" height="3.74" rx="1.12" fill="#a9a29e"/>
<rect x="23.76" y="1.36" width="8.00" height="4.67" fill="url(#shh)"/>
<rect x="25.85" y="8.28" width="3.82" height="7.30" rx="1.15" fill="#9a938f"/>
<rect x="25.37" y="7.93" width="4.78" height="8.00" fill="url(#shv)"/>
<rect x="24.11" y="18.41" width="7.30" height="3.77" rx="1.13" fill="#b3aca8"/>
<rect x="23.76" y="17.94" width="8.00" height="4.71" fill="url(#shh)"/>
<rect x="25.85" y="24.56" width="3.82" height="7.30" rx="1.15" fill="#a49d99"/>
<rect x="25.37" y="24.21" width="4.78" height="8.00" fill="url(#shv)"/>
</pattern>
<pattern id="wP2" x="320.3" y="43" width="32.000" height="32.000" patternUnits="userSpaceOnUse">
<rect width="32.000" height="32.000" fill="#141113"/>
<rect x="1.62" y="0" width="5.17" height="32.00" fill="#565151"/>
<rect x="9.44" y="0" width="5.57" height="32.00" fill="#666161"/>
<rect x="17.45" y="0" width="5.07" height="32.00" fill="#716c6c"/>
<rect x="25.03" y="0" width="5.60" height="32.00" fill="#595454"/>
<rect x="0" y="0.89" width="32.00" height="5.53" fill="#716c6c"/>
<rect x="0" y="9.51" width="32.00" height="5.21" fill="#6c6767"/>
<rect x="0" y="17.31" width="32.00" height="5.34" fill="#736e6e"/>
<rect x="0" y="25.44" width="32.00" height="5.48" fill="#5c5757"/>
<rect x="2.14" y="0.00" width="4.14" height="7.30" rx="1.24" fill="#918b89"/>
<rect x="1.62" y="-0.35" width="5.17" height="8.00" fill="url(#shv)"/>
<rect x="0.56" y="10.03" width="7.30" height="4.17" rx="1.25" fill="#b7b1af"/>
<rect x="0.21" y="9.51" width="8.00" height="5.21" fill="url(#shh)"/>
<rect x="2.14" y="16.33" width="4.14" height="7.30" rx="1.24" fill="#aaa4a2"/>
<rect x="1.62" y="15.98" width="5.17" height="8.00" fill="url(#shv)"/>
<rect x="0.56" y="25.99" width="7.30" height="4.39" rx="1.32" fill="#a19b99"/>
<rect x="0.21" y="25.44" width="8.00" height="5.48" fill="url(#shh)"/>
<rect x="8.58" y="1.44" width="7.30" height="4.42" rx="1.33" fill="#a19b99"/>
<rect x="8.23" y="0.89" width="8.00" height="5.53" fill="url(#shh)"/>
<rect x="10.00" y="8.46" width="4.46" height="7.30" rx="1.34" fill="#9e9896"/>
<rect x="9.44" y="8.11" width="5.57" height="8.00" fill="url(#shv)"/>
<rect x="8.58" y="17.84" width="7.30" height="4.27" rx="1.28" fill="#b5afad"/>
<rect x="8.23" y="17.31" width="8.00" height="5.34" fill="url(#shh)"/>
<rect x="10.00" y="24.53" width="4.46" height="7.30" rx="1.34" fill="#a29c9a"/>
<rect x="9.44" y="24.18" width="5.57" height="8.00" fill="url(#shv)"/>
<rect x="17.96" y="0.00" width="4.06" height="7.30" rx="1.22" fill="#bfb9b7"/>
<rect x="17.45" y="-0.35" width="5.07" height="8.00" fill="url(#shv)"/>
<rect x="16.34" y="10.03" width="7.30" height="4.17" rx="1.25" fill="#b0aaa8"/>
<rect x="15.99" y="9.51" width="8.00" height="5.21" fill="url(#shh)"/>
<rect x="17.96" y="16.33" width="4.06" height="7.30" rx="1.22" fill="#a59f9d"/>
<rect x="17.45" y="15.98" width="5.07" height="8.00" fill="url(#shv)"/>
<rect x="16.34" y="25.99" width="7.30" height="4.39" rx="1.32" fill="#a9a3a1"/>
<rect x="15.99" y="25.44" width="8.00" height="5.48" fill="url(#shh)"/>
<rect x="24.18" y="1.44" width="7.30" height="4.42" rx="1.33" fill="#aba5a3"/>
<rect x="23.83" y="0.89" width="8.00" height="5.53" fill="url(#shh)"/>
<rect x="25.59" y="8.46" width="4.48" height="7.30" rx="1.34" fill="#b1aba9"/>
<rect x="25.03" y="8.11" width="5.60" height="8.00" fill="url(#shv)"/>
<rect x="24.18" y="17.84" width="7.30" height="4.27" rx="1.28" fill="#bfb9b7"/>
<rect x="23.83" y="17.31" width="8.00" height="5.34" fill="url(#shh)"/>
<rect x="25.59" y="24.53" width="4.48" height="7.30" rx="1.34" fill="#a29c9a"/>
<rect x="25.03" y="24.18" width="5.60" height="8.00" fill="url(#shv)"/>
</pattern>
<pattern id="wO" x="622.5" y="93" width="47.600" height="47.600" patternUnits="userSpaceOnUse">
<rect width="47.600" height="47.600" fill="#100d0f"/>
<rect x="1.79" y="0" width="7.94" height="47.60" fill="#56504e"/>
<rect x="14.29" y="0" width="7.76" height="47.60" fill="#615b59"/>
<rect x="25.61" y="0" width="7.75" height="47.60" fill="#67615f"/>
<rect x="37.90" y="0" width="7.79" height="47.60" fill="#7d7775"/>
<rect x="0" y="1.91" width="47.60" height="7.49" fill="#66605e"/>
<rect x="0" y="13.61" width="47.60" height="8.13" fill="#5b5553"/>
<rect x="0" y="26.40" width="47.60" height="7.39" fill="#615b59"/>
<rect x="0" y="37.68" width="47.60" height="7.53" fill="#817b79"/>
<rect x="2.38" y="0.06" width="6.75" height="11.20" rx="2.03" fill="#8b8580"/>
<rect x="1.79" y="-0.29" width="7.94" height="11.90" fill="url(#shv)"/>
<rect x="0.16" y="14.22" width="11.20" height="6.91" rx="2.07" fill="#a29c97"/>
<rect x="-0.19" y="13.61" width="11.90" height="8.13" fill="url(#shh)"/>
<rect x="2.38" y="24.50" width="6.75" height="11.20" rx="2.03" fill="#97918c"/>
<rect x="1.79" y="24.15" width="7.94" height="11.90" fill="url(#shv)"/>
<rect x="0.16" y="38.24" width="11.20" height="6.40" rx="1.92" fill="#bab4af"/>
<rect x="-0.19" y="37.68" width="11.90" height="7.53" fill="url(#shh)"/>
<rect x="12.57" y="2.48" width="11.20" height="6.37" rx="1.91" fill="#9f9994"/>
<rect x="12.22" y="1.91" width="11.90" height="7.49" fill="url(#shh)"/>
<rect x="14.88" y="12.07" width="6.60" height="11.20" rx="1.98" fill="#a8a29d"/>
<rect x="14.29" y="11.72" width="7.76" height="11.90" fill="url(#shv)"/>
<rect x="12.57" y="26.96" width="11.20" height="6.28" rx="1.88" fill="#a19b96"/>
<rect x="12.22" y="26.40" width="11.90" height="7.39" fill="url(#shh)"/>
<rect x="14.88" y="35.85" width="6.60" height="11.20" rx="1.98" fill="#a7a19c"/>
<rect x="14.29" y="35.50" width="7.76" height="11.90" fill="url(#shv)"/>
<rect x="26.19" y="0.06" width="6.59" height="11.20" rx="1.98" fill="#b3ada8"/>
<rect x="25.61" y="-0.29" width="7.75" height="11.90" fill="url(#shv)"/>
<rect x="23.89" y="14.22" width="11.20" height="6.91" rx="2.07" fill="#a09a95"/>
<rect x="23.54" y="13.61" width="11.90" height="8.13" fill="url(#shh)"/>
<rect x="26.19" y="24.50" width="6.59" height="11.20" rx="1.98" fill="#98928d"/>
<rect x="25.61" y="24.15" width="7.75" height="11.90" fill="url(#shv)"/>
<rect x="23.89" y="38.24" width="11.20" height="6.40" rx="1.92" fill="#a59f9a"/>
<rect x="23.54" y="37.68" width="11.90" height="7.53" fill="url(#shh)"/>
<rect x="36.19" y="2.48" width="11.20" height="6.37" rx="1.91" fill="#b4aea9"/>
<rect x="35.84" y="1.91" width="11.90" height="7.49" fill="url(#shh)"/>
<rect x="38.48" y="12.07" width="6.63" height="11.20" rx="1.99" fill="#b2aca7"/>
<rect x="37.90" y="11.72" width="7.79" height="11.90" fill="url(#shv)"/>
<rect x="36.19" y="26.96" width="11.20" height="6.28" rx="1.88" fill="#96908b"/>
<rect x="35.84" y="26.40" width="11.90" height="7.39" fill="url(#shh)"/>
<rect x="38.48" y="35.85" width="6.63" height="11.20" rx="1.99" fill="#c2bcb7"/>
<rect x="37.90" y="35.50" width="7.79" height="11.90" fill="url(#shv)"/>
</pattern>
  <filter id="nz" x="0" y="0" width="100%" height="100%" color-interpolation-filters="sRGB">
    <feTurbulence type="fractalNoise" baseFrequency="0.09" numOctaves="3" seed="7" result="t"/>
    <feColorMatrix in="t" type="matrix" values="1 0 0 0 0  1 0 0 0 0  1 0 0 0 0  0 0 0 0 1"/>
  </filter>
  <filter id="nz2" x="0" y="0" width="100%" height="100%" color-interpolation-filters="sRGB">
    <feTurbulence type="fractalNoise" baseFrequency="0.45" numOctaves="2" seed="11" result="t"/>
    <feColorMatrix in="t" type="matrix" values="0.9 0.1 0 0 0  0.85 0.1 0.05 0 0  0.8 0.1 0.1 0 0  0 0 0 0 1"/>
  </filter>
  <filter id="wob" color-interpolation-filters="sRGB">
    <feTurbulence type="fractalNoise" baseFrequency="0.11" numOctaves="2" seed="5" result="t"/>
    <feDisplacementMap in="SourceGraphic" in2="t" scale="2.2" xChannelSelector="R" yChannelSelector="G" result="d"/>
    <feGaussianBlur in="d" stdDeviation="0.35"/>
  </filter>
  <filter id="wob2" color-interpolation-filters="sRGB">
    <feTurbulence type="fractalNoise" baseFrequency="0.11" numOctaves="2" seed="9" result="t"/>
    <feDisplacementMap in="SourceGraphic" in2="t" scale="2.2" xChannelSelector="R" yChannelSelector="G" result="d"/>
    <feGaussianBlur in="d" stdDeviation="0.6"/>
  </filter>
  <filter id="wobP" color-interpolation-filters="sRGB">
    <feTurbulence type="fractalNoise" baseFrequency="0.05" numOctaves="2" seed="3" result="t"/>
    <feDisplacementMap in="SourceGraphic" in2="t" scale="4" xChannelSelector="R" yChannelSelector="G" result="d"/>
    <feGaussianBlur in="d" stdDeviation="0.55"/>
  </filter>
  <filter id="dsoft" x="-20%" y="-20%" width="140%" height="140%"><feGaussianBlur stdDeviation="0.45"/></filter>
  <filter id="dblur" filterUnits="userSpaceOnUse" x="56" y="287" width="444" height="217"><feGaussianBlur stdDeviation="1.2"/></filter>
  <filter id="hb1" filterUnits="userSpaceOnUse" x="515" y="287" width="215" height="215"><feGaussianBlur stdDeviation="3.8"/></filter>
  <filter id="hb2" filterUnits="userSpaceOnUse" x="515" y="287" width="215" height="215"><feGaussianBlur stdDeviation="2.6"/></filter>
  <filter id="hb3" filterUnits="userSpaceOnUse" x="515" y="287" width="215" height="215"><feGaussianBlur stdDeviation="1.6"/></filter>
  <filter id="hbf" filterUnits="userSpaceOnUse" x="515" y="287" width="215" height="215" color-interpolation-filters="sRGB"><feGaussianBlur stdDeviation="6.5"/></filter>
  <filter id="hbm" filterUnits="userSpaceOnUse" x="515" y="287" width="215" height="215" color-interpolation-filters="sRGB"><feGaussianBlur stdDeviation="3.6"/><feComponentTransfer><feFuncA type="linear" slope="1.45"/></feComponentTransfer></filter>
  <filter id="hot" filterUnits="userSpaceOnUse" x="515" y="287" width="215" height="215" color-interpolation-filters="sRGB"><feComponentTransfer>
    <feFuncR type="table" tableValues="0.042 0.107 0.173 0.238 0.304 0.37 0.435 0.501 0.567 0.632 0.698 0.764 0.829 0.895 0.96 1 1 1 1 1 1 1 1 1 1 1 1 1 1 1 1 1 1 1 1 1 1 1 1 1 1"/>
    <feFuncG type="table" tableValues="0 0 0 0 0 0 0 0 0 0 0 0 0 0 0 0.026 0.092 0.157 0.223 0.289 0.354 0.42 0.485 0.551 0.617 0.682 0.748 0.814 0.879 0.945 1 1 1 1 1 1 1 1 1 1 1"/>
    <feFuncB type="table" tableValues="0 0 0 0 0 0 0 0 0 0 0 0 0 0 0 0 0 0 0 0 0 0 0 0 0 0 0 0 0 0 0.016 0.114 0.212 0.311 0.409 0.508 0.606 0.705 0.803 0.902 1"/>
  </feComponentTransfer></filter>
  <clipPath id="cA"><rect x="56" y="15" width="213" height="212"/></clipPath>
  <clipPath id="cB1"><rect x="56" y="287" width="214" height="217"/></clipPath>
  <clipPath id="cB2"><rect x="286" y="287" width="214" height="216"/></clipPath>
  <clipPath id="c3"><rect x="515" y="287" width="215" height="215"/></clipPath>
  <clipPath id="cP1"><rect x="320" y="2.5" width="32" height="32"/></clipPath>
  <clipPath id="cP2"><rect x="320.3" y="43" width="32" height="32"/></clipPath>
  <clipPath id="cP48"><rect x="320.7" y="165" width="32" height="32"/></clipPath>
  <clipPath id="cP49"><rect x="320.7" y="206" width="32" height="32"/></clipPath>
  <clipPath id="cPO"><rect x="622.5" y="93" width="47.5" height="47"/></clipPath>
</defs>

<!-- ===== a.) grid image ===== -->
<g clip-path="url(#cA)">
  <rect x="50" y="9" width="225" height="224" fill="url(#wA)" filter="url(#wob)"/>
  <rect x="56" y="15" width="213" height="212" filter="url(#nz)" style="mix-blend-mode:overlay" opacity="0.18"/>
  <rect x="56" y="15" width="213" height="212" filter="url(#nz2)" style="mix-blend-mode:overlay" opacity="0.2"/>
  <g fill="none"><path d="M56 204.2H269" stroke="#c8c4c0" stroke-width="1.46" opacity="0.33"/><path d="M146.3 15V227" stroke="#c8c4c0" stroke-width="1.21" opacity="0.17"/><path d="M56 55.7H269" stroke="#c8c4c0" stroke-width="0.89" opacity="0.26"/><path d="M152.9 15V227" stroke="#c8c4c0" stroke-width="0.95" opacity="0.24"/><path d="M56 165.5H269" stroke="#c8c4c0" stroke-width="0.86" opacity="0.15"/><path d="M212.4 15V227" stroke="#c8c4c0" stroke-width="1.16" opacity="0.23"/><path d="M56 181.0H269" stroke="#c8c4c0" stroke-width="0.84" opacity="0.22"/><path d="M188.3 15V227" stroke="#c8c4c0" stroke-width="1.26" opacity="0.27"/><path d="M56 176.1H269" stroke="#c8c4c0" stroke-width="1.05" opacity="0.34"/><path d="M196.7 15V227" stroke="#c8c4c0" stroke-width="1.20" opacity="0.22"/><path d="M56 115.5H269" stroke="#c8c4c0" stroke-width="0.86" opacity="0.21"/><path d="M151.3 15V227" stroke="#c8c4c0" stroke-width="1.21" opacity="0.29"/><path d="M56 52.9H269" stroke="#c8c4c0" stroke-width="0.93" opacity="0.28"/><path d="M97.7 15V227" stroke="#c8c4c0" stroke-width="1.37" opacity="0.21"/><path d="M56 23.3H269" stroke="#c8c4c0" stroke-width="0.87" opacity="0.17"/><path d="M230.8 15V227" stroke="#c8c4c0" stroke-width="1.20" opacity="0.21"/><path d="M56 76.2H269" stroke="#c8c4c0" stroke-width="1.06" opacity="0.22"/><path d="M172.9 15V227" stroke="#c8c4c0" stroke-width="1.34" opacity="0.21"/><path d="M56 181.2H269" stroke="#c8c4c0" stroke-width="0.87" opacity="0.20"/><path d="M106.7 15V227" stroke="#c8c4c0" stroke-width="1.38" opacity="0.29"/></g>
</g>
<!-- red overlay 7x7 -->
<rect x="91.70" y="50.33" width="123.90" height="123.67" fill="#ff3a3a" opacity="0.42"/>
<!-- black center -->
<rect x="144.80" y="103.33" width="17.70" height="17.67" fill="#000"/>
<!-- grid lines -->
<g stroke="#1ee0e0" stroke-width="1.15" fill="none">
  <path d="M56.70 15V227 M74.00 15V227 M91.70 15V227 M109.40 15V227 M127.10 15V227 M144.80 15V227 M162.50 15V227 M180.20 15V227 M197.90 15V227 M215.60 15V227 M233.30 15V227 M251.00 15V227 M268.40 15V227"/>
  <path d="M56 15.7H269 M56 32.67H269 M56 50.33H269 M56 68H269 M56 85.67H269 M56 103.33H269 M56 121H269 M56 138.67H269 M56 156.33H269 M56 174H269 M56 191.67H269 M56 209.33H269 M56 226.3H269"/>
</g>

<!-- arrow 1 -->
<g fill="#6cb32e">
  <rect x="221" y="114.5" width="74" height="5.6"/>
  <path d="M294.5 107L307.8 117.2L294.5 127.3Z"/>
</g>

<!-- patches -->
<g clip-path="url(#cP1)"><rect x="316" y="-2" width="40" height="40" fill="url(#wP)" filter="url(#wobP)"/></g>
<g clip-path="url(#cP2)"><rect x="316" y="39" width="40" height="40" fill="url(#wP2)" filter="url(#wobP)"/></g>
<g clip-path="url(#cP48)"><rect x="316" y="161" width="40" height="40" fill="url(#wP)" filter="url(#wobP)"/></g>
<g clip-path="url(#cP49)"><rect x="316" y="202" width="40" height="40" fill="url(#wP2)" filter="url(#wobP)"/></g>
<g clip-path="url(#cPO)"><rect x="617" y="88" width="58" height="57" fill="url(#wO)" filter="url(#wobP)"/></g>
<rect x="320.5" y="102" width="32" height="32" fill="#000"/>
<!-- dots -->
<g fill="#1a1a1a">
  <circle cx="335.7" cy="83.4" r="0.95"/><circle cx="335.7" cy="88.6" r="0.95"/><circle cx="335.7" cy="94.4" r="0.95"/>
  <circle cx="336.3" cy="143" r="0.95"/><circle cx="336.3" cy="148.4" r="0.95"/><circle cx="336.3" cy="154.1" r="0.95"/>
</g>

<!-- arrow 2 -->
<g fill="#6cb32e">
  <rect x="387" y="114" width="44" height="5.8"/>
  <path d="M430.3 106.5L448.2 116.4L430.3 126.5Z"/>
</g>
<!-- InTra box -->
<rect x="459.8" y="92.5" width="84.7" height="44.4" rx="3.5" fill="none" stroke="#6cb32e" stroke-width="2.9"/>

<!-- arrow 3 -->
<g fill="#6cb32e">
  <rect x="554" y="113.7" width="43.5" height="6.1"/>
  <path d="M596.8 106.5L614.2 116.6L596.8 126.4Z"/>
</g>

<!-- ===== b.) row ===== -->
<g clip-path="url(#cB1)">
  <rect x="50" y="281" width="226" height="229" fill="url(#wB)" filter="url(#wob)"/>
  <rect x="56" y="287" width="214" height="217" filter="url(#nz)" style="mix-blend-mode:overlay" opacity="0.18"/>
  <rect x="56" y="287" width="214" height="217" filter="url(#nz2)" style="mix-blend-mode:overlay" opacity="0.2"/>
  <g fill="none"><path d="M56 424.8H270" stroke="#c8c4c0" stroke-width="1.28" opacity="0.18"/><path d="M225.6 287V504" stroke="#c8c4c0" stroke-width="0.95" opacity="0.25"/><path d="M56 396.6H270" stroke="#c8c4c0" stroke-width="1.16" opacity="0.31"/><path d="M135.4 287V504" stroke="#c8c4c0" stroke-width="0.80" opacity="0.20"/><path d="M56 459.2H270" stroke="#c8c4c0" stroke-width="0.85" opacity="0.27"/><path d="M65.1 287V504" stroke="#c8c4c0" stroke-width="0.96" opacity="0.20"/><path d="M56 476.9H270" stroke="#c8c4c0" stroke-width="1.32" opacity="0.35"/><path d="M126.4 287V504" stroke="#c8c4c0" stroke-width="0.82" opacity="0.27"/><path d="M56 493.6H270" stroke="#c8c4c0" stroke-width="0.88" opacity="0.25"/><path d="M230.9 287V504" stroke="#c8c4c0" stroke-width="0.91" opacity="0.22"/><path d="M56 385.3H270" stroke="#c8c4c0" stroke-width="1.45" opacity="0.17"/><path d="M159.7 287V504" stroke="#c8c4c0" stroke-width="1.04" opacity="0.26"/><path d="M56 474.9H270" stroke="#c8c4c0" stroke-width="0.83" opacity="0.19"/><path d="M100.6 287V504" stroke="#c8c4c0" stroke-width="1.35" opacity="0.20"/><path d="M56 450.8H270" stroke="#c8c4c0" stroke-width="1.43" opacity="0.34"/><path d="M212.2 287V504" stroke="#c8c4c0" stroke-width="1.21" opacity="0.30"/><path d="M56 466.5H270" stroke="#c8c4c0" stroke-width="1.13" opacity="0.17"/><path d="M245.9 287V504" stroke="#c8c4c0" stroke-width="1.45" opacity="0.19"/><path d="M56 384.9H270" stroke="#c8c4c0" stroke-width="1.06" opacity="0.23"/><path d="M138.7 287V504" stroke="#c8c4c0" stroke-width="1.50" opacity="0.23"/><path d="M56 442.8H270" stroke="#c8c4c0" stroke-width="0.87" opacity="0.16"/><path d="M161.2 287V504" stroke="#c8c4c0" stroke-width="1.15" opacity="0.35"/></g><g filter="url(#dblur)" opacity="0.60"><ellipse cx="182" cy="378" rx="18.05" ry="19" fill="#2a2628" opacity="0.5"/></g><g opacity="1.00" filter="url(#dsoft)"><ellipse cx="183.7" cy="379.0" rx="1.5" ry="3.7" transform="rotate(27 183.7 379.0)" fill="#141113" opacity="0.85"/><ellipse cx="182.5" cy="369.9" rx="1.3" ry="2.4" transform="rotate(2 182.5 369.9)" fill="#141113" opacity="0.85"/><ellipse cx="188.3" cy="379.5" rx="1.2" ry="3.9" transform="rotate(27 188.3 379.5)" fill="#141113" opacity="0.85"/><ellipse cx="176.4" cy="373.7" rx="1.2" ry="3.5" transform="rotate(70 176.4 373.7)" fill="#141113" opacity="0.85"/><ellipse cx="191.1" cy="374.7" rx="1.3" ry="2.3" transform="rotate(49 191.1 374.7)" fill="#141113" opacity="0.85"/><ellipse cx="182.4" cy="376.7" rx="0.9" ry="3.4" transform="rotate(4 182.4 376.7)" fill="#141113" opacity="0.85"/><ellipse cx="184.9" cy="380.5" rx="0.9" ry="2.8" transform="rotate(61 184.9 380.5)" fill="#141113" opacity="0.85"/><ellipse cx="168.5" cy="372.0" rx="1.5" ry="2.6" transform="rotate(-51 168.5 372.0)" fill="#141113" opacity="0.85"/><ellipse cx="189.8" cy="370.9" rx="1.5" ry="3.3" transform="rotate(33 189.8 370.9)" fill="#141113" opacity="0.85"/><ellipse cx="174.1" cy="370.6" rx="1.0" ry="3.3" transform="rotate(-32 174.1 370.6)" fill="#141113" opacity="0.85"/><ellipse cx="172.7" cy="378.5" rx="0.9" ry="3.4" transform="rotate(-67 172.7 378.5)" fill="#141113" opacity="0.85"/><ellipse cx="195.3" cy="372.9" rx="0.9" ry="2.5" transform="rotate(-61 195.3 372.9)" fill="#141113" opacity="0.85"/><ellipse cx="182.1" cy="376.1" rx="1.2" ry="3.2" transform="rotate(1 182.1 376.1)" fill="#141113" opacity="0.85"/><ellipse cx="180.1" cy="385.5" rx="1.3" ry="3.8" transform="rotate(6 180.1 385.5)" fill="#141113" opacity="0.85"/><ellipse cx="175.3" cy="380.2" rx="0.9" ry="3.6" transform="rotate(-73 175.3 380.2)" fill="#141113" opacity="0.85"/><ellipse cx="169.9" cy="390.7" rx="1.5" ry="3.5" transform="rotate(-15 169.9 390.7)" fill="#141113" opacity="0.85"/><ellipse cx="193.2" cy="382.7" rx="0.9" ry="3.7" transform="rotate(59 193.2 382.7)" fill="#141113" opacity="0.85"/><ellipse cx="184.4" cy="377.4" rx="1.1" ry="2.2" transform="rotate(26 184.4 377.4)" fill="#141113" opacity="0.85"/><ellipse cx="180.5" cy="383.5" rx="1.1" ry="3.6" transform="rotate(-35 180.5 383.5)" fill="#141113" opacity="0.85"/><ellipse cx="187.8" cy="365.3" rx="1.5" ry="3.9" transform="rotate(18 187.8 365.3)" fill="#141113" opacity="0.85"/><path d="M176.8 383.4L185.8 377.3" stroke="#7b7570" stroke-width="1.5" stroke-linecap="round" opacity="0.55"/><path d="M183.8 378.4L185.2 371.7" stroke="#7b7570" stroke-width="1.7" stroke-linecap="round" opacity="0.55"/><path d="M181.5 384.9L187.0 377.7" stroke="#6e6864" stroke-width="1.6" stroke-linecap="round" opacity="0.55"/><path d="M184.1 389.3L173.8 381.3" stroke="#7b7570" stroke-width="1.1" stroke-linecap="round" opacity="0.55"/><path d="M178.0 387.9L191.7 383.5" stroke="#8a837e" stroke-width="1.2" stroke-linecap="round" opacity="0.55"/><path d="M177.4 384.6L173.0 380.2" stroke="#7b7570" stroke-width="1.3" stroke-linecap="round" opacity="0.55"/><path d="M176.9 384.6L182.5 371.9" stroke="#958e88" stroke-width="1.2" stroke-linecap="round" opacity="0.55"/><path d="M176.7 387.8L168.5 378.1" stroke="#958e88" stroke-width="1.8" stroke-linecap="round" opacity="0.55"/><path d="M181.5 384.4L191.0 377.4" stroke="#7b7570" stroke-width="1.8" stroke-linecap="round" opacity="0.55"/><path d="M181.4 380.9L172.4 374.8" stroke="#7b7570" stroke-width="1.1" stroke-linecap="round" opacity="0.55"/><path d="M176.1 386.4L164.4 378.3" stroke="#958e88" stroke-width="1.1" stroke-linecap="round" opacity="0.55"/><path d="M183.8 388.2L177.7 384.0" stroke="#6e6864" stroke-width="1.6" stroke-linecap="round" opacity="0.55"/><path d="M177.7 384.3L167.3 380.0" stroke="#7b7570" stroke-width="1.5" stroke-linecap="round" opacity="0.55"/><path d="M185.7 380.8L190.7 373.8" stroke="#958e88" stroke-width="1.3" stroke-linecap="round" opacity="0.55"/><path d="M186.8 383.9L193.4 375.3" stroke="#6e6864" stroke-width="1.5" stroke-linecap="round" opacity="0.55"/><path d="M185.5 385.4L187.1 378.9" stroke="#7b7570" stroke-width="1.3" stroke-linecap="round" opacity="0.55"/><path d="M184.8 379.4L193.1 374.5" stroke="#6e6864" stroke-width="1.1" stroke-linecap="round" opacity="0.55"/><path d="M183.7 382.3L183.6 372.0" stroke="#7b7570" stroke-width="1.4" stroke-linecap="round" opacity="0.55"/></g>
</g>
<g clip-path="url(#cB2)">
  <rect x="280" y="281" width="226" height="228" fill="url(#wC)" filter="url(#wob2)"/>
  <rect x="286" y="287" width="214" height="216" filter="url(#nz)" style="mix-blend-mode:overlay" opacity="0.15"/>
  <g fill="none"><path d="M286 292.1H500" stroke="#c8c4c0" stroke-width="0.90" opacity="0.24"/><path d="M311.8 287V503" stroke="#c8c4c0" stroke-width="0.93" opacity="0.25"/><path d="M286 479.1H500" stroke="#c8c4c0" stroke-width="1.04" opacity="0.20"/><path d="M354.4 287V503" stroke="#c8c4c0" stroke-width="1.47" opacity="0.13"/><path d="M286 435.0H500" stroke="#c8c4c0" stroke-width="1.45" opacity="0.19"/><path d="M296.4 287V503" stroke="#c8c4c0" stroke-width="1.30" opacity="0.24"/><path d="M286 354.1H500" stroke="#c8c4c0" stroke-width="1.21" opacity="0.23"/><path d="M410.7 287V503" stroke="#c8c4c0" stroke-width="1.39" opacity="0.13"/><path d="M286 494.6H500" stroke="#c8c4c0" stroke-width="1.34" opacity="0.24"/><path d="M417.0 287V503" stroke="#c8c4c0" stroke-width="1.29" opacity="0.18"/><path d="M286 354.5H500" stroke="#c8c4c0" stroke-width="1.47" opacity="0.14"/><path d="M425.3 287V503" stroke="#c8c4c0" stroke-width="1.47" opacity="0.22"/><path d="M286 431.2H500" stroke="#c8c4c0" stroke-width="1.38" opacity="0.12"/><path d="M399.8 287V503" stroke="#c8c4c0" stroke-width="0.83" opacity="0.13"/><path d="M286 396.4H500" stroke="#c8c4c0" stroke-width="1.45" opacity="0.10"/><path d="M427.5 287V503" stroke="#c8c4c0" stroke-width="1.09" opacity="0.18"/><path d="M286 367.7H500" stroke="#c8c4c0" stroke-width="1.02" opacity="0.24"/><path d="M413.5 287V503" stroke="#c8c4c0" stroke-width="1.01" opacity="0.19"/></g><g filter="url(#dblur)" opacity="0.27"><ellipse cx="413" cy="375" rx="14.25" ry="15" fill="#2a2628" opacity="0.5"/></g><g opacity="0.45" filter="url(#dsoft)"><ellipse cx="412.9" cy="384.0" rx="1.4" ry="2.4" transform="rotate(-63 412.9 384.0)" fill="#141113" opacity="0.85"/><ellipse cx="413.3" cy="366.8" rx="1.6" ry="3.8" transform="rotate(1 413.3 366.8)" fill="#141113" opacity="0.85"/><ellipse cx="412.5" cy="377.6" rx="1.0" ry="2.2" transform="rotate(-19 412.5 377.6)" fill="#141113" opacity="0.85"/><ellipse cx="420.6" cy="368.9" rx="1.6" ry="2.6" transform="rotate(34 420.6 368.9)" fill="#141113" opacity="0.85"/><ellipse cx="410.0" cy="377.6" rx="1.0" ry="2.5" transform="rotate(-62 410.0 377.6)" fill="#141113" opacity="0.85"/><ellipse cx="405.9" cy="375.8" rx="1.1" ry="3.9" transform="rotate(-71 405.9 375.8)" fill="#141113" opacity="0.85"/><ellipse cx="403.1" cy="371.3" rx="1.3" ry="3.2" transform="rotate(-50 403.1 371.3)" fill="#141113" opacity="0.85"/><ellipse cx="407.6" cy="375.4" rx="1.2" ry="4.0" transform="rotate(40 407.6 375.4)" fill="#141113" opacity="0.85"/><ellipse cx="412.5" cy="376.7" rx="1.5" ry="3.0" transform="rotate(-11 412.5 376.7)" fill="#141113" opacity="0.85"/><ellipse cx="403.5" cy="380.4" rx="1.1" ry="2.9" transform="rotate(30 403.5 380.4)" fill="#141113" opacity="0.85"/><ellipse cx="417.0" cy="384.8" rx="1.6" ry="3.1" transform="rotate(-46 417.0 384.8)" fill="#141113" opacity="0.85"/><ellipse cx="425.7" cy="374.3" rx="1.3" ry="3.1" transform="rotate(68 425.7 374.3)" fill="#141113" opacity="0.85"/><ellipse cx="408.5" cy="374.2" rx="1.0" ry="3.7" transform="rotate(-41 408.5 374.2)" fill="#141113" opacity="0.85"/><ellipse cx="413.3" cy="369.8" rx="1.4" ry="2.4" transform="rotate(1 413.3 369.8)" fill="#141113" opacity="0.85"/><ellipse cx="415.0" cy="384.8" rx="1.6" ry="3.6" transform="rotate(-38 415.0 384.8)" fill="#141113" opacity="0.85"/><ellipse cx="406.0" cy="366.7" rx="1.2" ry="2.3" transform="rotate(-27 406.0 366.7)" fill="#141113" opacity="0.85"/><ellipse cx="411.2" cy="375.8" rx="1.0" ry="3.5" transform="rotate(-27 411.2 375.8)" fill="#141113" opacity="0.85"/><ellipse cx="417.4" cy="377.7" rx="1.3" ry="3.1" transform="rotate(71 417.4 377.7)" fill="#141113" opacity="0.85"/><ellipse cx="419.1" cy="375.9" rx="0.9" ry="3.9" transform="rotate(61 419.1 375.9)" fill="#141113" opacity="0.85"/><ellipse cx="411.7" cy="378.0" rx="1.4" ry="3.4" transform="rotate(-47 411.7 378.0)" fill="#141113" opacity="0.85"/><path d="M408.4 378.8L415.0 371.6" stroke="#7b7570" stroke-width="1.2" stroke-linecap="round" opacity="0.55"/><path d="M417.9 375.1L416.2 364.7" stroke="#958e88" stroke-width="1.0" stroke-linecap="round" opacity="0.55"/><path d="M415.7 376.4L406.9 373.1" stroke="#7b7570" stroke-width="1.8" stroke-linecap="round" opacity="0.55"/><path d="M407.9 382.1L419.4 375.0" stroke="#7b7570" stroke-width="1.4" stroke-linecap="round" opacity="0.55"/><path d="M418.9 386.7L411.5 384.0" stroke="#7b7570" stroke-width="1.8" stroke-linecap="round" opacity="0.55"/><path d="M411.2 382.4L406.6 370.8" stroke="#8a837e" stroke-width="1.5" stroke-linecap="round" opacity="0.55"/><path d="M413.1 384.0L410.8 378.2" stroke="#7b7570" stroke-width="1.1" stroke-linecap="round" opacity="0.55"/><path d="M409.7 381.8L415.7 371.0" stroke="#8a837e" stroke-width="1.5" stroke-linecap="round" opacity="0.55"/><path d="M410.3 377.5L410.7 370.2" stroke="#7b7570" stroke-width="1.2" stroke-linecap="round" opacity="0.55"/><path d="M417.1 375.5L422.9 363.2" stroke="#6e6864" stroke-width="1.8" stroke-linecap="round" opacity="0.55"/><path d="M408.8 381.9L415.5 376.3" stroke="#6e6864" stroke-width="1.2" stroke-linecap="round" opacity="0.55"/><path d="M411.4 384.4L417.4 382.3" stroke="#7b7570" stroke-width="1.2" stroke-linecap="round" opacity="0.55"/><path d="M418.9 383.3L427.2 379.9" stroke="#8a837e" stroke-width="1.6" stroke-linecap="round" opacity="0.55"/><path d="M409.8 377.9L404.4 374.3" stroke="#8a837e" stroke-width="1.6" stroke-linecap="round" opacity="0.55"/><path d="M407.9 386.8L411.4 375.6" stroke="#958e88" stroke-width="1.3" stroke-linecap="round" opacity="0.55"/><path d="M413.8 381.8L422.4 377.4" stroke="#6e6864" stroke-width="1.7" stroke-linecap="round" opacity="0.55"/><path d="M417.8 376.8L409.6 366.6" stroke="#958e88" stroke-width="1.3" stroke-linecap="round" opacity="0.55"/><path d="M414.2 384.4L405.7 380.2" stroke="#8a837e" stroke-width="1.5" stroke-linecap="round" opacity="0.55"/></g>
</g>

<!-- heatmap -->
<g filter="url(#hot)">
  <rect x="515" y="287" width="215" height="215" fill="#000"/>
  <g filter="url(#hbf)" fill="#101010">
    <circle cx="708" cy="370" r="10" opacity="0.9"/>
    <circle cx="683" cy="369" r="10" opacity="0.8"/>
    <circle cx="659" cy="317" r="9" opacity="0.5"/>
    <circle cx="570" cy="382" r="9" opacity="0.6"/>
    <circle cx="531" cy="480" r="11" opacity="0.8"/>
    <circle cx="547" cy="438" r="9" opacity="0.6"/>
    <circle cx="599" cy="433" r="9" opacity="0.6"/>
    <circle cx="610" cy="463" r="9" opacity="0.6"/>
    <circle cx="565" cy="455" r="8" opacity="0.5"/>
    <circle cx="587" cy="340" r="8" opacity="0.4"/>
    <circle cx="623" cy="332" r="8" opacity="0.4"/>
    <circle cx="660" cy="460" r="8" opacity="0.4"/>
  </g>
  <g filter="url(#hbm)" fill="#fff" stroke="#fff" stroke-linecap="round">
    <circle cx="636.00" cy="385.00" r="11.30" stroke="none"/>
    <circle cx="638.21" cy="383.54" r="10.91" stroke="none"/>
    <circle cx="640.43" cy="382.09" r="10.53" stroke="none"/>
    <circle cx="642.64" cy="380.63" r="10.14" stroke="none"/>
    <circle cx="644.86" cy="379.17" r="9.76" stroke="none"/>
    <circle cx="647.07" cy="377.71" r="9.37" stroke="none"/>
    <circle cx="649.29" cy="376.26" r="8.99" stroke="none"/>
    <circle cx="651.50" cy="374.80" r="8.60" stroke="none"/>
  </g>
</g>
</svg>

<!-- labels -->
<div class="lbl" style="left:8.6px;top:104.4px;font-size:30.7px;transform:scaleX(1.11);">a.)</div>
<div class="lbl" style="left:9.2px;top:366.9px;font-size:29.4px;transform:scaleX(1.137);">b.)</div>
<div class="lbl" style="left:361.1px;top:8.8px;font-size:18.2px;">1</div>
<div class="lbl" style="left:361.2px;top:50.9px;font-size:18.2px;transform:scaleX(1.03);">2</div>
<div class="lbl" style="left:361.0px;top:106.7px;font-size:18.2px;transform:scaleX(1.08);">25</div>
<div class="lbl" style="left:360.9px;top:171.6px;font-size:18.2px;transform:scaleX(1.10);">48</div>
<div class="lbl" style="left:360.9px;top:212.1px;font-size:18.2px;transform:scaleX(1.09);">49</div>
<div class="lbl" style="left:476.9px;top:104.7px;font-size:21.7px;transform:scaleX(1.117);">InTra</div>
</body></html>
